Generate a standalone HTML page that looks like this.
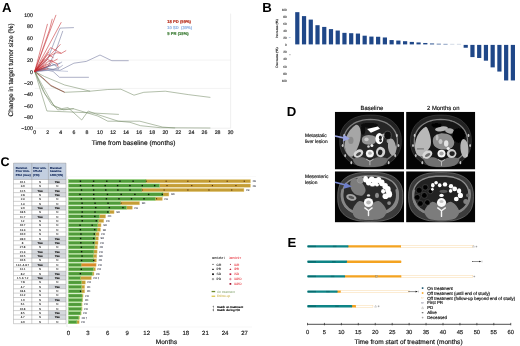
<!DOCTYPE html>
<html lang="en">
<head>
<meta charset="utf-8">
<title>Figure</title>
<style>
html,body{margin:0;padding:0;background:#fff;}
body{width:520px;height:346px;overflow:hidden;}
svg{display:block;}
svg text{font-family:"Liberation Sans",sans-serif;text-rendering:geometricPrecision;}
</style>
</head>
<body>
<svg width="520" height="346" viewBox="0 0 520 346">
<rect width="520" height="346" fill="#ffffff"/>
<g id="panelA">
<text x="1.90" y="11.50" font-size="13.2" fill="#000" text-anchor="start" font-weight="bold" >A</text>
<path d="M230.6 13.6 V128.2 H34.7" fill="none" stroke="#e9e9e9" stroke-width="0.7"/>
<line x1="34.7" y1="60.1" x2="230.6" y2="60.1" stroke="#e6e6e6" stroke-width="0.5"/>
<line x1="34.7" y1="88.4" x2="230.6" y2="88.4" stroke="#e6e6e6" stroke-width="0.5"/>
<text x="32.90" y="130.15" font-size="5.2" fill="#1a1a1a" text-anchor="end" font-weight="normal"  stroke="#1a1a1a" stroke-width="0.16">−100</text>
<text x="32.90" y="118.84" font-size="5.2" fill="#1a1a1a" text-anchor="end" font-weight="normal"  stroke="#1a1a1a" stroke-width="0.16">−80</text>
<text x="32.90" y="107.53" font-size="5.2" fill="#1a1a1a" text-anchor="end" font-weight="normal"  stroke="#1a1a1a" stroke-width="0.16">−60</text>
<text x="32.90" y="96.22" font-size="5.2" fill="#1a1a1a" text-anchor="end" font-weight="normal"  stroke="#1a1a1a" stroke-width="0.16">−40</text>
<text x="32.90" y="84.91" font-size="5.2" fill="#1a1a1a" text-anchor="end" font-weight="normal"  stroke="#1a1a1a" stroke-width="0.16">−20</text>
<text x="32.90" y="73.60" font-size="5.2" fill="#1a1a1a" text-anchor="end" font-weight="normal"  stroke="#1a1a1a" stroke-width="0.16">0</text>
<text x="32.90" y="62.29" font-size="5.2" fill="#1a1a1a" text-anchor="end" font-weight="normal"  stroke="#1a1a1a" stroke-width="0.16">20</text>
<text x="32.90" y="50.98" font-size="5.2" fill="#1a1a1a" text-anchor="end" font-weight="normal"  stroke="#1a1a1a" stroke-width="0.16">40</text>
<text x="32.90" y="39.67" font-size="5.2" fill="#1a1a1a" text-anchor="end" font-weight="normal"  stroke="#1a1a1a" stroke-width="0.16">60</text>
<text x="32.90" y="28.36" font-size="5.2" fill="#1a1a1a" text-anchor="end" font-weight="normal"  stroke="#1a1a1a" stroke-width="0.16">80</text>
<text x="32.90" y="17.05" font-size="5.2" fill="#1a1a1a" text-anchor="end" font-weight="normal"  stroke="#1a1a1a" stroke-width="0.16">100</text>
<text x="34.70" y="134.20" font-size="5.2" fill="#1a1a1a" text-anchor="middle" font-weight="normal"  stroke="#1a1a1a" stroke-width="0.16">0</text>
<text x="47.76" y="134.20" font-size="5.2" fill="#1a1a1a" text-anchor="middle" font-weight="normal"  stroke="#1a1a1a" stroke-width="0.16">2</text>
<text x="60.82" y="134.20" font-size="5.2" fill="#1a1a1a" text-anchor="middle" font-weight="normal"  stroke="#1a1a1a" stroke-width="0.16">4</text>
<text x="73.88" y="134.20" font-size="5.2" fill="#1a1a1a" text-anchor="middle" font-weight="normal"  stroke="#1a1a1a" stroke-width="0.16">6</text>
<text x="86.94" y="134.20" font-size="5.2" fill="#1a1a1a" text-anchor="middle" font-weight="normal"  stroke="#1a1a1a" stroke-width="0.16">8</text>
<text x="100.00" y="134.20" font-size="5.2" fill="#1a1a1a" text-anchor="middle" font-weight="normal"  stroke="#1a1a1a" stroke-width="0.16">10</text>
<text x="113.06" y="134.20" font-size="5.2" fill="#1a1a1a" text-anchor="middle" font-weight="normal"  stroke="#1a1a1a" stroke-width="0.16">12</text>
<text x="126.12" y="134.20" font-size="5.2" fill="#1a1a1a" text-anchor="middle" font-weight="normal"  stroke="#1a1a1a" stroke-width="0.16">14</text>
<text x="139.18" y="134.20" font-size="5.2" fill="#1a1a1a" text-anchor="middle" font-weight="normal"  stroke="#1a1a1a" stroke-width="0.16">16</text>
<text x="152.24" y="134.20" font-size="5.2" fill="#1a1a1a" text-anchor="middle" font-weight="normal"  stroke="#1a1a1a" stroke-width="0.16">18</text>
<text x="165.30" y="134.20" font-size="5.2" fill="#1a1a1a" text-anchor="middle" font-weight="normal"  stroke="#1a1a1a" stroke-width="0.16">20</text>
<text x="178.36" y="134.20" font-size="5.2" fill="#1a1a1a" text-anchor="middle" font-weight="normal"  stroke="#1a1a1a" stroke-width="0.16">22</text>
<text x="191.42" y="134.20" font-size="5.2" fill="#1a1a1a" text-anchor="middle" font-weight="normal"  stroke="#1a1a1a" stroke-width="0.16">24</text>
<text x="204.48" y="134.20" font-size="5.2" fill="#1a1a1a" text-anchor="middle" font-weight="normal"  stroke="#1a1a1a" stroke-width="0.16">26</text>
<text x="217.54" y="134.20" font-size="5.2" fill="#1a1a1a" text-anchor="middle" font-weight="normal"  stroke="#1a1a1a" stroke-width="0.16">28</text>
<text x="230.60" y="134.20" font-size="5.2" fill="#1a1a1a" text-anchor="middle" font-weight="normal"  stroke="#1a1a1a" stroke-width="0.16">30</text>
<text x="133.60" y="144.70" font-size="6.6" fill="#111" text-anchor="middle" font-weight="normal"  stroke="#111" stroke-width="0.16">Time from baseline (months)</text>
<text transform="translate(13.3,69.9) rotate(-90)" font-size="6.6" fill="#111" stroke="#111" stroke-width="0.16" text-anchor="middle">Change in target tumor size (%)</text>
<text x="167.30" y="23.40" font-size="4.15" fill="#b8301f" text-anchor="start" font-weight="bold"  stroke="#b8301f" stroke-width="0.16">18 PD (55%)</text>
<text x="167.30" y="29.30" font-size="4.15" fill="#98b8e6" text-anchor="start" font-weight="bold"  stroke="#98b8e6" stroke-width="0.16">10 SD&#160;&#160;(30%)</text>
<text x="167.30" y="34.90" font-size="4.15" fill="#3a7a32" text-anchor="start" font-weight="bold"  stroke="#3a7a32" stroke-width="0.16">5 PR (15%)</text>
<polyline points="34.7,71.4 44.5,76.5 64.7,85.0 90.2,91.2 107.8,89.5 120.9,89.2 134.0,95.2 143.8,92.3 165.3,91.2 188.2,94.6 210.4,97.4" fill="none" stroke="#748a64" stroke-width="0.55" stroke-opacity="1" stroke-linejoin="round"/>
<polyline points="34.7,71.4 51.0,86.1 64.7,92.3 90.2,91.2" fill="none" stroke="#748a64" stroke-width="0.55" stroke-opacity="1" stroke-linejoin="round"/>
<polyline points="34.7,71.4 46.9,111.0 86.9,112.7 118.9,114.4" fill="none" stroke="#748a64" stroke-width="0.55" stroke-opacity="1" stroke-linejoin="round"/>
<polyline points="34.7,71.4 43.2,91.2 51.7,104.8 61.5,108.7 68.0,107.6 81.7,120.0 88.2,111.0 95.4,113.8 118.3,121.2 130.0,122.3 140.5,125.7 160.1,127.7 210.4,128.0" fill="none" stroke="#748a64" stroke-width="0.55" stroke-opacity="1" stroke-linejoin="round"/>
<polyline points="34.7,71.4 45.1,94.0 57.6,109.9 73.2,108.7 98.0,116.1 107.8,121.2 130.0,121.2 139.8,121.2 162.7,127.1 175.1,128.0" fill="none" stroke="#748a64" stroke-width="0.55" stroke-opacity="1" stroke-linejoin="round"/>
<polyline points="34.7,71.4 47.8,95.2 54.3,106.5 63.4,109.9 73.9,108.7" fill="none" stroke="#748a64" stroke-width="0.5" stroke-opacity="1" stroke-linejoin="round"/>
<polyline points="34.7,71.4 42.5,77.6 51.0,85.5 64.7,92.3" fill="none" stroke="#8c3b2e" stroke-width="0.7" stroke-opacity="1" stroke-linejoin="round"/>
<polyline points="34.7,71.4 47.8,59.0 54.9,40.3 60.0,28.1 73.9,27.6" fill="none" stroke="#6a7099" stroke-width="0.55" stroke-opacity="1" stroke-linejoin="round"/>
<polyline points="34.7,71.4 47.8,66.9 55.6,51.6 62.8,30.9" fill="none" stroke="#6a7099" stroke-width="0.55" stroke-opacity="1" stroke-linejoin="round"/>
<polyline points="34.7,71.4 51.0,69.7 60.0,70.3 73.9,63.2 86.3,61.4 100.0,55.0 111.8,60.7 128.7,60.7" fill="none" stroke="#6a7099" stroke-width="0.55" stroke-opacity="1" stroke-linejoin="round"/>
<polyline points="34.7,71.4 47.8,70.3 53.0,71.4 59.5,77.3 88.9,77.3" fill="none" stroke="#6a7099" stroke-width="0.55" stroke-opacity="1" stroke-linejoin="round"/>
<polyline points="34.7,71.4 50.4,70.3 68.0,71.4" fill="none" stroke="#9aa3c4" stroke-width="0.55" stroke-opacity="1" stroke-linejoin="round"/>
<polyline points="34.7,71.4 44.5,68.6 51.7,63.5 56.2,65.7 62.1,61.8" fill="none" stroke="#6a7099" stroke-width="0.5" stroke-opacity="1" stroke-linejoin="round"/>
<polyline points="34.7,71.4 47.8,66.9 54.3,64.6 58.2,68.6 62.8,65.2" fill="none" stroke="#6a7099" stroke-width="0.5" stroke-opacity="1" stroke-linejoin="round"/>
<polyline points="34.7,71.4 46.5,68.0 53.0,69.7 59.5,66.9" fill="none" stroke="#6a7099" stroke-width="0.5" stroke-opacity="1" stroke-linejoin="round"/>
<polyline points="34.7,71.4 47.1,69.1 58.9,69.1" fill="none" stroke="#6a7099" stroke-width="0.5" stroke-opacity="1" stroke-linejoin="round"/>
<polyline points="34.7,71.4 49.1,66.3 60.2,62.9" fill="none" stroke="#6a7099" stroke-width="0.5" stroke-opacity="1" stroke-linejoin="round"/>
<polyline points="34.7,71.4 56.0,14.9" fill="none" stroke="#c4262c" stroke-width="0.55" stroke-opacity="1" stroke-linejoin="round"/>
<polyline points="34.7,71.4 49.4,30.1 52.3,18.8" fill="none" stroke="#c4262c" stroke-width="0.55" stroke-opacity="1" stroke-linejoin="round"/>
<polyline points="34.7,71.4 47.5,23.9" fill="none" stroke="#c4262c" stroke-width="0.55" stroke-opacity="1" stroke-linejoin="round"/>
<polyline points="34.7,71.4 61.3,22.2" fill="none" stroke="#c4262c" stroke-width="0.55" stroke-opacity="1" stroke-linejoin="round"/>
<polyline points="34.7,71.4 50.6,47.6 61.3,53.3 66.2,50.5" fill="none" stroke="#c4262c" stroke-width="0.55" stroke-opacity="1" stroke-linejoin="round"/>
<polyline points="34.7,71.4 48.7,56.7 56.2,52.7 61.3,53.3" fill="none" stroke="#c4262c" stroke-width="0.55" stroke-opacity="1" stroke-linejoin="round"/>
<polyline points="34.7,71.4 47.5,59.5 56.9,63.5 58.2,66.9" fill="none" stroke="#c4262c" stroke-width="0.55" stroke-opacity="1" stroke-linejoin="round"/>
<polyline points="34.7,71.4 60.5,44.3" fill="none" stroke="#c4262c" stroke-width="0.55" stroke-opacity="1" stroke-linejoin="round"/>
<polyline points="34.7,71.4 47.8,54.4 53.6,57.8" fill="none" stroke="#c4262c" stroke-width="0.55" stroke-opacity="1" stroke-linejoin="round"/>
<polyline points="34.7,71.4 46.5,62.4 53.0,60.1" fill="none" stroke="#c4262c" stroke-width="0.55" stroke-opacity="1" stroke-linejoin="round"/>
<polyline points="34.7,71.4 51.0,64.6" fill="none" stroke="#c4262c" stroke-width="0.55" stroke-opacity="1" stroke-linejoin="round"/>
<polyline points="34.7,71.4 44.5,59.0" fill="none" stroke="#c4262c" stroke-width="0.55" stroke-opacity="1" stroke-linejoin="round"/>
<polyline points="34.7,71.4 49.1,51.6" fill="none" stroke="#c4262c" stroke-width="0.55" stroke-opacity="1" stroke-linejoin="round"/>
<polyline points="34.7,71.4 57.6,59.0" fill="none" stroke="#c4262c" stroke-width="0.55" stroke-opacity="1" stroke-linejoin="round"/>
<polyline points="34.7,71.4 45.8,66.9" fill="none" stroke="#c4262c" stroke-width="0.55" stroke-opacity="1" stroke-linejoin="round"/>
<polyline points="34.7,71.4 47.1,63.5" fill="none" stroke="#c4262c" stroke-width="0.55" stroke-opacity="1" stroke-linejoin="round"/>
<polyline points="34.7,71.4 48.4,68.6" fill="none" stroke="#c4262c" stroke-width="0.55" stroke-opacity="1" stroke-linejoin="round"/>
<polyline points="34.7,71.4 43.8,65.7" fill="none" stroke="#c4262c" stroke-width="0.55" stroke-opacity="1" stroke-linejoin="round"/>
</g>
<g id="panelB">
<text x="262.20" y="11.80" font-size="13.2" fill="#000" text-anchor="start" font-weight="bold" >B</text>
<text x="286.80" y="10.55" font-size="3.1" fill="#151515" text-anchor="end" font-weight="normal"  stroke="#151515" stroke-width="0.07">100</text>
<text x="286.80" y="17.68" font-size="3.1" fill="#151515" text-anchor="end" font-weight="normal"  stroke="#151515" stroke-width="0.07">80</text>
<text x="286.80" y="24.81" font-size="3.1" fill="#151515" text-anchor="end" font-weight="normal"  stroke="#151515" stroke-width="0.07">60</text>
<text x="286.80" y="31.94" font-size="3.1" fill="#151515" text-anchor="end" font-weight="normal"  stroke="#151515" stroke-width="0.07">40</text>
<text x="286.80" y="39.07" font-size="3.1" fill="#151515" text-anchor="end" font-weight="normal"  stroke="#151515" stroke-width="0.07">20</text>
<text x="286.80" y="46.20" font-size="3.1" fill="#151515" text-anchor="end" font-weight="normal"  stroke="#151515" stroke-width="0.07">0</text>
<text x="286.80" y="53.33" font-size="3.1" fill="#151515" text-anchor="end" font-weight="normal"  stroke="#151515" stroke-width="0.07">20</text>
<text x="286.80" y="60.46" font-size="3.1" fill="#151515" text-anchor="end" font-weight="normal"  stroke="#151515" stroke-width="0.07">40</text>
<text x="286.80" y="67.59" font-size="3.1" fill="#151515" text-anchor="end" font-weight="normal"  stroke="#151515" stroke-width="0.07">60</text>
<text x="286.80" y="74.72" font-size="3.1" fill="#151515" text-anchor="end" font-weight="normal"  stroke="#151515" stroke-width="0.07">80</text>
<text x="286.80" y="81.85" font-size="3.1" fill="#151515" text-anchor="end" font-weight="normal"  stroke="#151515" stroke-width="0.07">100</text>
<text transform="translate(278.4,28.6) rotate(-90)" font-size="3.3" stroke="#222" stroke-width="0.12" fill="#222" text-anchor="middle">Increase (%)</text>
<text transform="translate(278.4,57.6) rotate(-90)" font-size="3.3" stroke="#222" stroke-width="0.12" fill="#222" text-anchor="middle">Decrease (%)</text>
<rect x="288.8" y="37.3" width="1.8" height="0.7" fill="#9db7dd"/>
<rect x="289.2" y="54.6" width="1.4" height="0.5" fill="#555"/>
<rect x="295.20" y="12.16" width="4.2" height="32.24" fill="#1f4788"/>
<rect x="301.94" y="16.10" width="4.2" height="28.30" fill="#1f4788"/>
<rect x="308.67" y="19.59" width="4.2" height="24.81" fill="#1f4788"/>
<rect x="315.41" y="25.20" width="4.2" height="19.20" fill="#1f4788"/>
<rect x="322.15" y="26.91" width="4.2" height="17.49" fill="#1f4788"/>
<rect x="328.88" y="29.11" width="4.2" height="15.29" fill="#1f4788"/>
<rect x="335.62" y="30.54" width="4.2" height="13.86" fill="#1f4788"/>
<rect x="342.36" y="32.85" width="4.2" height="11.55" fill="#1f4788"/>
<rect x="349.10" y="33.20" width="4.2" height="11.20" fill="#1f4788"/>
<rect x="355.83" y="33.56" width="4.2" height="10.84" fill="#1f4788"/>
<rect x="362.57" y="35.69" width="4.2" height="8.71" fill="#1f4788"/>
<rect x="369.31" y="36.58" width="4.2" height="7.82" fill="#1f4788"/>
<rect x="376.04" y="36.76" width="4.2" height="7.64" fill="#1f4788"/>
<rect x="382.78" y="37.47" width="4.2" height="6.93" fill="#1f4788"/>
<rect x="389.52" y="40.06" width="4.2" height="4.34" fill="#1f4788"/>
<rect x="396.25" y="40.56" width="4.2" height="3.84" fill="#1f4788"/>
<rect x="402.99" y="41.20" width="4.2" height="3.20" fill="#1f4788"/>
<rect x="409.73" y="41.91" width="4.2" height="2.49" fill="#1f4788"/>
<rect x="416.47" y="42.44" width="4.2" height="1.96" fill="#1f4788"/>
<rect x="423.20" y="42.98" width="4.2" height="1.42" fill="#1f4788"/>
<rect x="429.94" y="43.48" width="4.2" height="0.92" fill="#1f4788"/>
<rect x="436.68" y="43.76" width="4.2" height="0.64" fill="#1f4788"/>
<rect x="443.41" y="43.90" width="4.2" height="0.50" fill="#1f4788"/>
<rect x="450.15" y="43.90" width="4.2" height="0.50" fill="#a9b6cc"/>
<rect x="456.89" y="43.90" width="4.2" height="0.50" fill="#a9b6cc"/>
<rect x="463.62" y="44.90" width="4.2" height="2.84" fill="#1f4788"/>
<rect x="470.36" y="44.90" width="4.2" height="12.19" fill="#1f4788"/>
<rect x="477.10" y="44.90" width="4.2" height="13.08" fill="#1f4788"/>
<rect x="483.84" y="44.90" width="4.2" height="15.78" fill="#1f4788"/>
<rect x="490.57" y="44.90" width="4.2" height="22.47" fill="#1f4788"/>
<rect x="497.31" y="44.90" width="4.2" height="26.66" fill="#1f4788"/>
<rect x="504.05" y="44.90" width="4.2" height="35.55" fill="#1f4788"/>
<rect x="510.78" y="44.90" width="4.2" height="35.55" fill="#1f4788"/>
</g>
<g id="panelC">
<text x="0.40" y="165.90" font-size="12.6" fill="#000" text-anchor="start" font-weight="bold" >C</text>
<rect x="13.5" y="163.1" width="52.5" height="16.400000000000006" fill="#c3cfe0"/>
<text x="15.80" y="169.10" font-size="2.8" fill="#1c3263" text-anchor="start" font-weight="bold"  stroke="#1c3263" stroke-width="0.14">Duration</text>
<text x="15.80" y="172.45" font-size="2.8" fill="#1c3263" text-anchor="start" font-weight="bold"  stroke="#1c3263" stroke-width="0.14">Prior Anti-</text>
<text x="15.80" y="175.80" font-size="2.8" fill="#1c3263" text-anchor="start" font-weight="bold"  stroke="#1c3263" stroke-width="0.14">PD-1 (mos)</text>
<text x="32.90" y="169.10" font-size="2.8" fill="#1c3263" text-anchor="start" font-weight="bold"  stroke="#1c3263" stroke-width="0.14">Prior anti-</text>
<text x="32.90" y="172.45" font-size="2.8" fill="#1c3263" text-anchor="start" font-weight="bold"  stroke="#1c3263" stroke-width="0.14">CTLA4</text>
<text x="32.90" y="175.80" font-size="2.8" fill="#1c3263" text-anchor="start" font-weight="bold"  stroke="#1c3263" stroke-width="0.14">(Y/N)</text>
<text x="50.00" y="169.10" font-size="2.8" fill="#1c3263" text-anchor="start" font-weight="bold"  stroke="#1c3263" stroke-width="0.14">Elevated</text>
<text x="50.00" y="172.45" font-size="2.8" fill="#1c3263" text-anchor="start" font-weight="bold"  stroke="#1c3263" stroke-width="0.14">baseline</text>
<text x="50.00" y="175.80" font-size="2.8" fill="#1c3263" text-anchor="start" font-weight="bold"  stroke="#1c3263" stroke-width="0.14">LDH (Y/N)</text>
<rect x="48.4" y="179.50" width="17.6" height="4.37" fill="#d6d9de"/>
<rect x="31.8" y="188.24" width="16.599999999999998" height="4.37" fill="#d6d9de"/>
<rect x="48.4" y="188.24" width="17.6" height="4.37" fill="#d6d9de"/>
<rect x="48.4" y="192.61" width="17.6" height="4.37" fill="#d6d9de"/>
<rect x="31.8" y="205.72" width="16.599999999999998" height="4.37" fill="#d6d9de"/>
<rect x="48.4" y="205.72" width="17.6" height="4.37" fill="#d6d9de"/>
<rect x="31.8" y="214.46" width="16.599999999999998" height="4.37" fill="#d6d9de"/>
<rect x="48.4" y="236.31" width="17.6" height="4.37" fill="#d6d9de"/>
<rect x="31.8" y="240.68" width="16.599999999999998" height="4.37" fill="#d6d9de"/>
<rect x="48.4" y="240.68" width="17.6" height="4.37" fill="#d6d9de"/>
<rect x="31.8" y="249.42" width="16.599999999999998" height="4.37" fill="#d6d9de"/>
<rect x="48.4" y="249.42" width="17.6" height="4.37" fill="#d6d9de"/>
<rect x="31.8" y="253.79" width="16.599999999999998" height="4.37" fill="#d6d9de"/>
<rect x="48.4" y="253.79" width="17.6" height="4.37" fill="#d6d9de"/>
<rect x="31.8" y="262.53" width="16.599999999999998" height="4.37" fill="#d6d9de"/>
<rect x="48.4" y="271.27" width="17.6" height="4.37" fill="#d6d9de"/>
<rect x="31.8" y="275.64" width="16.599999999999998" height="4.37" fill="#d6d9de"/>
<rect x="48.4" y="275.64" width="17.6" height="4.37" fill="#d6d9de"/>
<rect x="48.4" y="284.38" width="17.6" height="4.37" fill="#d6d9de"/>
<rect x="48.4" y="297.49" width="17.6" height="4.37" fill="#d6d9de"/>
<rect x="48.4" y="310.60" width="17.6" height="4.37" fill="#d6d9de"/>
<rect x="48.4" y="314.97" width="17.6" height="4.37" fill="#d6d9de"/>
<line x1="13.5" y1="179.50" x2="66.0" y2="179.50" stroke="#8c8c8c" stroke-width="0.4"/>
<line x1="13.5" y1="183.87" x2="66.0" y2="183.87" stroke="#8c8c8c" stroke-width="0.4"/>
<line x1="13.5" y1="188.24" x2="66.0" y2="188.24" stroke="#8c8c8c" stroke-width="0.4"/>
<line x1="13.5" y1="192.61" x2="66.0" y2="192.61" stroke="#8c8c8c" stroke-width="0.4"/>
<line x1="13.5" y1="196.98" x2="66.0" y2="196.98" stroke="#8c8c8c" stroke-width="0.4"/>
<line x1="13.5" y1="201.35" x2="66.0" y2="201.35" stroke="#8c8c8c" stroke-width="0.4"/>
<line x1="13.5" y1="205.72" x2="66.0" y2="205.72" stroke="#8c8c8c" stroke-width="0.4"/>
<line x1="13.5" y1="210.09" x2="66.0" y2="210.09" stroke="#8c8c8c" stroke-width="0.4"/>
<line x1="13.5" y1="214.46" x2="66.0" y2="214.46" stroke="#8c8c8c" stroke-width="0.4"/>
<line x1="13.5" y1="218.83" x2="66.0" y2="218.83" stroke="#8c8c8c" stroke-width="0.4"/>
<line x1="13.5" y1="223.20" x2="66.0" y2="223.20" stroke="#8c8c8c" stroke-width="0.4"/>
<line x1="13.5" y1="227.57" x2="66.0" y2="227.57" stroke="#8c8c8c" stroke-width="0.4"/>
<line x1="13.5" y1="231.94" x2="66.0" y2="231.94" stroke="#8c8c8c" stroke-width="0.4"/>
<line x1="13.5" y1="236.31" x2="66.0" y2="236.31" stroke="#8c8c8c" stroke-width="0.4"/>
<line x1="13.5" y1="240.68" x2="66.0" y2="240.68" stroke="#8c8c8c" stroke-width="0.4"/>
<line x1="13.5" y1="245.05" x2="66.0" y2="245.05" stroke="#8c8c8c" stroke-width="0.4"/>
<line x1="13.5" y1="249.42" x2="66.0" y2="249.42" stroke="#8c8c8c" stroke-width="0.4"/>
<line x1="13.5" y1="253.79" x2="66.0" y2="253.79" stroke="#8c8c8c" stroke-width="0.4"/>
<line x1="13.5" y1="258.16" x2="66.0" y2="258.16" stroke="#8c8c8c" stroke-width="0.4"/>
<line x1="13.5" y1="262.53" x2="66.0" y2="262.53" stroke="#8c8c8c" stroke-width="0.4"/>
<line x1="13.5" y1="266.90" x2="66.0" y2="266.90" stroke="#8c8c8c" stroke-width="0.4"/>
<line x1="13.5" y1="271.27" x2="66.0" y2="271.27" stroke="#8c8c8c" stroke-width="0.4"/>
<line x1="13.5" y1="275.64" x2="66.0" y2="275.64" stroke="#8c8c8c" stroke-width="0.4"/>
<line x1="13.5" y1="280.01" x2="66.0" y2="280.01" stroke="#8c8c8c" stroke-width="0.4"/>
<line x1="13.5" y1="284.38" x2="66.0" y2="284.38" stroke="#8c8c8c" stroke-width="0.4"/>
<line x1="13.5" y1="288.75" x2="66.0" y2="288.75" stroke="#8c8c8c" stroke-width="0.4"/>
<line x1="13.5" y1="293.12" x2="66.0" y2="293.12" stroke="#8c8c8c" stroke-width="0.4"/>
<line x1="13.5" y1="297.49" x2="66.0" y2="297.49" stroke="#8c8c8c" stroke-width="0.4"/>
<line x1="13.5" y1="301.86" x2="66.0" y2="301.86" stroke="#8c8c8c" stroke-width="0.4"/>
<line x1="13.5" y1="306.23" x2="66.0" y2="306.23" stroke="#8c8c8c" stroke-width="0.4"/>
<line x1="13.5" y1="310.60" x2="66.0" y2="310.60" stroke="#8c8c8c" stroke-width="0.4"/>
<line x1="13.5" y1="314.97" x2="66.0" y2="314.97" stroke="#8c8c8c" stroke-width="0.4"/>
<line x1="13.5" y1="319.34" x2="66.0" y2="319.34" stroke="#8c8c8c" stroke-width="0.4"/>
<line x1="13.5" y1="323.71" x2="66.0" y2="323.71" stroke="#8c8c8c" stroke-width="0.4"/>
<line x1="13.5" y1="163.1" x2="13.5" y2="323.71" stroke="#8a8a8a" stroke-width="0.4"/>
<line x1="31.8" y1="163.1" x2="31.8" y2="323.71" stroke="#8a8a8a" stroke-width="0.4"/>
<line x1="48.4" y1="163.1" x2="48.4" y2="323.71" stroke="#8a8a8a" stroke-width="0.4"/>
<line x1="66.0" y1="163.1" x2="66.0" y2="323.71" stroke="#8a8a8a" stroke-width="0.4"/>
<line x1="13.5" y1="163.1" x2="66.0" y2="163.1" stroke="#8a8a8a" stroke-width="0.4"/>
<text x="22.65" y="182.78" font-size="2.9" fill="#1e1e1e" text-anchor="middle" font-weight="normal"  stroke="#1e1e1e" stroke-width="0.07">10.1</text>
<text x="40.10" y="182.78" font-size="2.9" fill="#1e1e1e" text-anchor="middle" font-weight="normal"  stroke="#1e1e1e" stroke-width="0.07">N</text>
<text x="57.20" y="182.78" font-size="2.9" fill="#1e1e1e" text-anchor="middle" font-weight="bold"  stroke="#1e1e1e" stroke-width="0.14">Yes</text>
<text x="22.65" y="187.16" font-size="2.9" fill="#1e1e1e" text-anchor="middle" font-weight="normal"  stroke="#1e1e1e" stroke-width="0.07">3.0</text>
<text x="40.10" y="187.16" font-size="2.9" fill="#1e1e1e" text-anchor="middle" font-weight="normal"  stroke="#1e1e1e" stroke-width="0.07">N</text>
<text x="57.20" y="187.16" font-size="2.9" fill="#1e1e1e" text-anchor="middle" font-weight="normal"  stroke="#1e1e1e" stroke-width="0.07">N</text>
<text x="22.65" y="191.53" font-size="2.9" fill="#1e1e1e" text-anchor="middle" font-weight="normal"  stroke="#1e1e1e" stroke-width="0.07">12.5</text>
<text x="40.10" y="191.53" font-size="2.9" fill="#1e1e1e" text-anchor="middle" font-weight="bold"  stroke="#1e1e1e" stroke-width="0.14">Yes</text>
<text x="57.20" y="191.53" font-size="2.9" fill="#1e1e1e" text-anchor="middle" font-weight="bold"  stroke="#1e1e1e" stroke-width="0.14">Yes</text>
<text x="22.65" y="195.90" font-size="2.9" fill="#1e1e1e" text-anchor="middle" font-weight="normal"  stroke="#1e1e1e" stroke-width="0.07">2.8</text>
<text x="40.10" y="195.90" font-size="2.9" fill="#1e1e1e" text-anchor="middle" font-weight="normal"  stroke="#1e1e1e" stroke-width="0.07">N</text>
<text x="57.20" y="195.90" font-size="2.9" fill="#1e1e1e" text-anchor="middle" font-weight="bold"  stroke="#1e1e1e" stroke-width="0.14">Yes</text>
<text x="22.65" y="200.26" font-size="2.9" fill="#1e1e1e" text-anchor="middle" font-weight="normal"  stroke="#1e1e1e" stroke-width="0.07">2.9</text>
<text x="40.10" y="200.26" font-size="2.9" fill="#1e1e1e" text-anchor="middle" font-weight="normal"  stroke="#1e1e1e" stroke-width="0.07">N</text>
<text x="57.20" y="200.26" font-size="2.9" fill="#1e1e1e" text-anchor="middle" font-weight="normal"  stroke="#1e1e1e" stroke-width="0.07">N</text>
<text x="22.65" y="204.63" font-size="2.9" fill="#1e1e1e" text-anchor="middle" font-weight="normal"  stroke="#1e1e1e" stroke-width="0.07">1.9</text>
<text x="40.10" y="204.63" font-size="2.9" fill="#1e1e1e" text-anchor="middle" font-weight="normal"  stroke="#1e1e1e" stroke-width="0.07">N</text>
<text x="57.20" y="204.63" font-size="2.9" fill="#1e1e1e" text-anchor="middle" font-weight="normal"  stroke="#1e1e1e" stroke-width="0.07">N</text>
<text x="22.65" y="209.00" font-size="2.9" fill="#1e1e1e" text-anchor="middle" font-weight="normal"  stroke="#1e1e1e" stroke-width="0.07">9.0</text>
<text x="40.10" y="209.00" font-size="2.9" fill="#1e1e1e" text-anchor="middle" font-weight="bold"  stroke="#1e1e1e" stroke-width="0.14">Yes</text>
<text x="57.20" y="209.00" font-size="2.9" fill="#1e1e1e" text-anchor="middle" font-weight="bold"  stroke="#1e1e1e" stroke-width="0.14">Yes</text>
<text x="22.65" y="213.38" font-size="2.9" fill="#1e1e1e" text-anchor="middle" font-weight="normal"  stroke="#1e1e1e" stroke-width="0.07">18.6</text>
<text x="40.10" y="213.38" font-size="2.9" fill="#1e1e1e" text-anchor="middle" font-weight="normal"  stroke="#1e1e1e" stroke-width="0.07">N</text>
<text x="57.20" y="213.38" font-size="2.9" fill="#1e1e1e" text-anchor="middle" font-weight="normal"  stroke="#1e1e1e" stroke-width="0.07">N</text>
<text x="22.65" y="217.75" font-size="2.9" fill="#1e1e1e" text-anchor="middle" font-weight="normal"  stroke="#1e1e1e" stroke-width="0.07">11.7</text>
<text x="40.10" y="217.75" font-size="2.9" fill="#1e1e1e" text-anchor="middle" font-weight="bold"  stroke="#1e1e1e" stroke-width="0.14">Yes</text>
<text x="57.20" y="217.75" font-size="2.9" fill="#1e1e1e" text-anchor="middle" font-weight="normal"  stroke="#1e1e1e" stroke-width="0.07">N</text>
<text x="22.65" y="222.11" font-size="2.9" fill="#1e1e1e" text-anchor="middle" font-weight="normal"  stroke="#1e1e1e" stroke-width="0.07">12</text>
<text x="40.10" y="222.11" font-size="2.9" fill="#1e1e1e" text-anchor="middle" font-weight="normal"  stroke="#1e1e1e" stroke-width="0.07">N</text>
<text x="57.20" y="222.11" font-size="2.9" fill="#1e1e1e" text-anchor="middle" font-weight="normal"  stroke="#1e1e1e" stroke-width="0.07">N</text>
<text x="22.65" y="226.48" font-size="2.9" fill="#1e1e1e" text-anchor="middle" font-weight="normal"  stroke="#1e1e1e" stroke-width="0.07">16.7</text>
<text x="40.10" y="226.48" font-size="2.9" fill="#1e1e1e" text-anchor="middle" font-weight="normal"  stroke="#1e1e1e" stroke-width="0.07">N</text>
<text x="57.20" y="226.48" font-size="2.9" fill="#1e1e1e" text-anchor="middle" font-weight="normal"  stroke="#1e1e1e" stroke-width="0.07">N</text>
<text x="22.65" y="230.85" font-size="2.9" fill="#1e1e1e" text-anchor="middle" font-weight="normal"  stroke="#1e1e1e" stroke-width="0.07">13.3</text>
<text x="40.10" y="230.85" font-size="2.9" fill="#1e1e1e" text-anchor="middle" font-weight="normal"  stroke="#1e1e1e" stroke-width="0.07">N</text>
<text x="57.20" y="230.85" font-size="2.9" fill="#1e1e1e" text-anchor="middle" font-weight="normal"  stroke="#1e1e1e" stroke-width="0.07">N</text>
<text x="22.65" y="235.22" font-size="2.9" fill="#1e1e1e" text-anchor="middle" font-weight="normal"  stroke="#1e1e1e" stroke-width="0.07">16.0</text>
<text x="40.10" y="235.22" font-size="2.9" fill="#1e1e1e" text-anchor="middle" font-weight="normal"  stroke="#1e1e1e" stroke-width="0.07">N</text>
<text x="57.20" y="235.22" font-size="2.9" fill="#1e1e1e" text-anchor="middle" font-weight="normal"  stroke="#1e1e1e" stroke-width="0.07">N</text>
<text x="22.65" y="239.59" font-size="2.9" fill="#1e1e1e" text-anchor="middle" font-weight="normal"  stroke="#1e1e1e" stroke-width="0.07">28.0</text>
<text x="40.10" y="239.59" font-size="2.9" fill="#1e1e1e" text-anchor="middle" font-weight="normal"  stroke="#1e1e1e" stroke-width="0.07">N</text>
<text x="57.20" y="239.59" font-size="2.9" fill="#1e1e1e" text-anchor="middle" font-weight="bold"  stroke="#1e1e1e" stroke-width="0.14">Yes</text>
<text x="22.65" y="243.97" font-size="2.9" fill="#1e1e1e" text-anchor="middle" font-weight="normal"  stroke="#1e1e1e" stroke-width="0.07">8</text>
<text x="40.10" y="243.97" font-size="2.9" fill="#1e1e1e" text-anchor="middle" font-weight="bold"  stroke="#1e1e1e" stroke-width="0.14">Yes</text>
<text x="57.20" y="243.97" font-size="2.9" fill="#1e1e1e" text-anchor="middle" font-weight="bold"  stroke="#1e1e1e" stroke-width="0.14">Yes</text>
<text x="22.65" y="248.34" font-size="2.9" fill="#1e1e1e" text-anchor="middle" font-weight="normal"  stroke="#1e1e1e" stroke-width="0.07">27.8</text>
<text x="40.10" y="248.34" font-size="2.9" fill="#1e1e1e" text-anchor="middle" font-weight="normal"  stroke="#1e1e1e" stroke-width="0.07">N</text>
<text x="57.20" y="248.34" font-size="2.9" fill="#1e1e1e" text-anchor="middle" font-weight="normal"  stroke="#1e1e1e" stroke-width="0.07">N</text>
<text x="22.65" y="252.71" font-size="2.9" fill="#1e1e1e" text-anchor="middle" font-weight="normal"  stroke="#1e1e1e" stroke-width="0.07">21.3</text>
<text x="40.10" y="252.71" font-size="2.9" fill="#1e1e1e" text-anchor="middle" font-weight="bold"  stroke="#1e1e1e" stroke-width="0.14">Yes</text>
<text x="57.20" y="252.71" font-size="2.9" fill="#1e1e1e" text-anchor="middle" font-weight="bold"  stroke="#1e1e1e" stroke-width="0.14">Yes</text>
<text x="22.65" y="257.08" font-size="2.9" fill="#1e1e1e" text-anchor="middle" font-weight="normal"  stroke="#1e1e1e" stroke-width="0.07">16.5</text>
<text x="40.10" y="257.08" font-size="2.9" fill="#1e1e1e" text-anchor="middle" font-weight="bold"  stroke="#1e1e1e" stroke-width="0.14">Yes</text>
<text x="57.20" y="257.08" font-size="2.9" fill="#1e1e1e" text-anchor="middle" font-weight="bold"  stroke="#1e1e1e" stroke-width="0.14">Yes</text>
<text x="22.65" y="261.44" font-size="2.9" fill="#1e1e1e" text-anchor="middle" font-weight="normal"  stroke="#1e1e1e" stroke-width="0.07">16.6</text>
<text x="40.10" y="261.44" font-size="2.9" fill="#1e1e1e" text-anchor="middle" font-weight="normal"  stroke="#1e1e1e" stroke-width="0.07">N</text>
<text x="57.20" y="261.44" font-size="2.9" fill="#1e1e1e" text-anchor="middle" font-weight="normal"  stroke="#1e1e1e" stroke-width="0.07">N</text>
<text x="22.65" y="265.81" font-size="2.9" fill="#1e1e1e" text-anchor="middle" font-weight="normal"  stroke="#1e1e1e" stroke-width="0.07">13.1 &amp; 8.7</text>
<text x="40.10" y="265.81" font-size="2.9" fill="#1e1e1e" text-anchor="middle" font-weight="bold"  stroke="#1e1e1e" stroke-width="0.14">Yes</text>
<text x="57.20" y="265.81" font-size="2.9" fill="#1e1e1e" text-anchor="middle" font-weight="normal"  stroke="#1e1e1e" stroke-width="0.07">N</text>
<text x="22.65" y="270.19" font-size="2.9" fill="#1e1e1e" text-anchor="middle" font-weight="normal"  stroke="#1e1e1e" stroke-width="0.07">12.1</text>
<text x="40.10" y="270.19" font-size="2.9" fill="#1e1e1e" text-anchor="middle" font-weight="normal"  stroke="#1e1e1e" stroke-width="0.07">N</text>
<text x="57.20" y="270.19" font-size="2.9" fill="#1e1e1e" text-anchor="middle" font-weight="normal"  stroke="#1e1e1e" stroke-width="0.07">N</text>
<text x="22.65" y="274.56" font-size="2.9" fill="#1e1e1e" text-anchor="middle" font-weight="normal"  stroke="#1e1e1e" stroke-width="0.07">8.2</text>
<text x="40.10" y="274.56" font-size="2.9" fill="#1e1e1e" text-anchor="middle" font-weight="normal"  stroke="#1e1e1e" stroke-width="0.07">N</text>
<text x="57.20" y="274.56" font-size="2.9" fill="#1e1e1e" text-anchor="middle" font-weight="bold"  stroke="#1e1e1e" stroke-width="0.14">Yes</text>
<text x="22.65" y="278.93" font-size="2.9" fill="#1e1e1e" text-anchor="middle" font-weight="normal"  stroke="#1e1e1e" stroke-width="0.07">1.5 &amp; 7.2</text>
<text x="40.10" y="278.93" font-size="2.9" fill="#1e1e1e" text-anchor="middle" font-weight="bold"  stroke="#1e1e1e" stroke-width="0.14">Yes</text>
<text x="57.20" y="278.93" font-size="2.9" fill="#1e1e1e" text-anchor="middle" font-weight="bold"  stroke="#1e1e1e" stroke-width="0.14">Yes</text>
<text x="22.65" y="283.30" font-size="2.9" fill="#1e1e1e" text-anchor="middle" font-weight="normal"  stroke="#1e1e1e" stroke-width="0.07">7.8</text>
<text x="40.10" y="283.30" font-size="2.9" fill="#1e1e1e" text-anchor="middle" font-weight="normal"  stroke="#1e1e1e" stroke-width="0.07">N</text>
<text x="57.20" y="283.30" font-size="2.9" fill="#1e1e1e" text-anchor="middle" font-weight="normal"  stroke="#1e1e1e" stroke-width="0.07">N</text>
<text x="22.65" y="287.67" font-size="2.9" fill="#1e1e1e" text-anchor="middle" font-weight="normal"  stroke="#1e1e1e" stroke-width="0.07">4.7</text>
<text x="40.10" y="287.67" font-size="2.9" fill="#1e1e1e" text-anchor="middle" font-weight="normal"  stroke="#1e1e1e" stroke-width="0.07">N</text>
<text x="57.20" y="287.67" font-size="2.9" fill="#1e1e1e" text-anchor="middle" font-weight="bold"  stroke="#1e1e1e" stroke-width="0.14">Yes</text>
<text x="22.65" y="292.04" font-size="2.9" fill="#1e1e1e" text-anchor="middle" font-weight="normal"  stroke="#1e1e1e" stroke-width="0.07">18.4</text>
<text x="40.10" y="292.04" font-size="2.9" fill="#1e1e1e" text-anchor="middle" font-weight="normal"  stroke="#1e1e1e" stroke-width="0.07">N</text>
<text x="57.20" y="292.04" font-size="2.9" fill="#1e1e1e" text-anchor="middle" font-weight="normal"  stroke="#1e1e1e" stroke-width="0.07">N</text>
<text x="22.65" y="296.41" font-size="2.9" fill="#1e1e1e" text-anchor="middle" font-weight="normal"  stroke="#1e1e1e" stroke-width="0.07">12.2</text>
<text x="40.10" y="296.41" font-size="2.9" fill="#1e1e1e" text-anchor="middle" font-weight="normal"  stroke="#1e1e1e" stroke-width="0.07">N</text>
<text x="57.20" y="296.41" font-size="2.9" fill="#1e1e1e" text-anchor="middle" font-weight="normal"  stroke="#1e1e1e" stroke-width="0.07">N</text>
<text x="22.65" y="300.78" font-size="2.9" fill="#1e1e1e" text-anchor="middle" font-weight="normal"  stroke="#1e1e1e" stroke-width="0.07">1.0</text>
<text x="40.10" y="300.78" font-size="2.9" fill="#1e1e1e" text-anchor="middle" font-weight="normal"  stroke="#1e1e1e" stroke-width="0.07">N</text>
<text x="57.20" y="300.78" font-size="2.9" fill="#1e1e1e" text-anchor="middle" font-weight="bold"  stroke="#1e1e1e" stroke-width="0.14">Yes</text>
<text x="22.65" y="305.15" font-size="2.9" fill="#1e1e1e" text-anchor="middle" font-weight="normal"  stroke="#1e1e1e" stroke-width="0.07">6.1</text>
<text x="40.10" y="305.15" font-size="2.9" fill="#1e1e1e" text-anchor="middle" font-weight="normal"  stroke="#1e1e1e" stroke-width="0.07">N</text>
<text x="57.20" y="305.15" font-size="2.9" fill="#1e1e1e" text-anchor="middle" font-weight="normal"  stroke="#1e1e1e" stroke-width="0.07">N</text>
<text x="22.65" y="309.52" font-size="2.9" fill="#1e1e1e" text-anchor="middle" font-weight="normal"  stroke="#1e1e1e" stroke-width="0.07">16.8</text>
<text x="40.10" y="309.52" font-size="2.9" fill="#1e1e1e" text-anchor="middle" font-weight="normal"  stroke="#1e1e1e" stroke-width="0.07">N</text>
<text x="57.20" y="309.52" font-size="2.9" fill="#1e1e1e" text-anchor="middle" font-weight="normal"  stroke="#1e1e1e" stroke-width="0.07">N</text>
<text x="22.65" y="313.89" font-size="2.9" fill="#1e1e1e" text-anchor="middle" font-weight="normal"  stroke="#1e1e1e" stroke-width="0.07">8.5</text>
<text x="40.10" y="313.89" font-size="2.9" fill="#1e1e1e" text-anchor="middle" font-weight="normal"  stroke="#1e1e1e" stroke-width="0.07">N</text>
<text x="57.20" y="313.89" font-size="2.9" fill="#1e1e1e" text-anchor="middle" font-weight="bold"  stroke="#1e1e1e" stroke-width="0.14">Yes</text>
<text x="22.65" y="318.26" font-size="2.9" fill="#1e1e1e" text-anchor="middle" font-weight="normal"  stroke="#1e1e1e" stroke-width="0.07">4.7</text>
<text x="40.10" y="318.26" font-size="2.9" fill="#1e1e1e" text-anchor="middle" font-weight="normal"  stroke="#1e1e1e" stroke-width="0.07">N</text>
<text x="57.20" y="318.26" font-size="2.9" fill="#1e1e1e" text-anchor="middle" font-weight="bold"  stroke="#1e1e1e" stroke-width="0.14">Yes</text>
<text x="22.65" y="322.63" font-size="2.9" fill="#1e1e1e" text-anchor="middle" font-weight="normal"  stroke="#1e1e1e" stroke-width="0.07">3.0</text>
<text x="40.10" y="322.63" font-size="2.9" fill="#1e1e1e" text-anchor="middle" font-weight="normal"  stroke="#1e1e1e" stroke-width="0.07">N</text>
<text x="57.20" y="322.63" font-size="2.9" fill="#1e1e1e" text-anchor="middle" font-weight="normal"  stroke="#1e1e1e" stroke-width="0.07">N</text>
<line x1="66.9" y1="176.5" x2="66.9" y2="327" stroke="#d4d4d4" stroke-width="0.5"/>
<line x1="67.6" y1="327" x2="252" y2="327" stroke="#ececec" stroke-width="0.4"/>
<line x1="66.9" y1="176.6" x2="256" y2="176.6" stroke="#efefef" stroke-width="0.4"/>
<text x="68.40" y="334.95" font-size="6.0" fill="#1a1a1a" text-anchor="middle" font-weight="normal"  stroke="#1a1a1a" stroke-width="0.16">0</text>
<text x="87.98" y="334.95" font-size="6.0" fill="#1a1a1a" text-anchor="middle" font-weight="normal"  stroke="#1a1a1a" stroke-width="0.16">3</text>
<text x="107.56" y="334.95" font-size="6.0" fill="#1a1a1a" text-anchor="middle" font-weight="normal"  stroke="#1a1a1a" stroke-width="0.16">6</text>
<text x="127.13" y="334.95" font-size="6.0" fill="#1a1a1a" text-anchor="middle" font-weight="normal"  stroke="#1a1a1a" stroke-width="0.16">9</text>
<text x="146.71" y="334.95" font-size="6.0" fill="#1a1a1a" text-anchor="middle" font-weight="normal"  stroke="#1a1a1a" stroke-width="0.16">12</text>
<text x="166.29" y="334.95" font-size="6.0" fill="#1a1a1a" text-anchor="middle" font-weight="normal"  stroke="#1a1a1a" stroke-width="0.16">15</text>
<text x="185.87" y="334.95" font-size="6.0" fill="#1a1a1a" text-anchor="middle" font-weight="normal"  stroke="#1a1a1a" stroke-width="0.16">18</text>
<text x="205.45" y="334.95" font-size="6.0" fill="#1a1a1a" text-anchor="middle" font-weight="normal"  stroke="#1a1a1a" stroke-width="0.16">21</text>
<text x="225.02" y="334.95" font-size="6.0" fill="#1a1a1a" text-anchor="middle" font-weight="normal"  stroke="#1a1a1a" stroke-width="0.16">24</text>
<text x="244.60" y="334.95" font-size="6.0" fill="#1a1a1a" text-anchor="middle" font-weight="normal"  stroke="#1a1a1a" stroke-width="0.16">27</text>
<text x="166.50" y="343.90" font-size="6.5" fill="#111" text-anchor="middle" font-weight="normal"  stroke="#111" stroke-width="0.16">Months</text>
<rect x="145.76" y="179.55" width="104.72" height="3.3" fill="#c49d36" stroke="#e6cf86" stroke-width="0.4"/>
<rect x="68.40" y="179.55" width="77.66" height="3.3" fill="#4f9a3a" stroke="#93d472" stroke-width="0.5"/>
<rect x="79.74" y="180.50" width="1.4" height="1.4" fill="#0c140a"/>
<rect x="92.91" y="180.50" width="1.4" height="1.4" fill="#0c140a"/>
<rect x="106.08" y="180.50" width="1.4" height="1.4" fill="#0c140a"/>
<rect x="119.24" y="180.50" width="1.4" height="1.4" fill="#0c140a"/>
<rect x="132.41" y="180.50" width="1.4" height="1.4" fill="#0c140a"/>
<rect x="145.73" y="180.65" width="1.1" height="1.1" fill="#4a2208"/>
<rect x="165.59" y="180.65" width="1.1" height="1.1" fill="#4a2208"/>
<rect x="187.29" y="180.65" width="1.1" height="1.1" fill="#4a2208"/>
<rect x="209.16" y="180.65" width="1.1" height="1.1" fill="#4a2208"/>
<rect x="226.64" y="180.65" width="1.1" height="1.1" fill="#4a2208"/>
<rect x="243.71" y="180.65" width="1.1" height="1.1" fill="#4a2208"/>
<text x="252.68" y="182.10" font-size="2.5" fill="#3a3e4c" text-anchor="start" font-weight="normal" stroke="#3a3e4c" stroke-width="0.08">PR</text>
<rect x="159.27" y="183.95" width="91.21" height="3.3" fill="#c49d36" stroke="#e6cf86" stroke-width="0.4"/>
<rect x="68.40" y="183.95" width="91.17" height="3.3" fill="#4f9a3a" stroke="#93d472" stroke-width="0.5"/>
<rect x="79.80" y="184.90" width="1.4" height="1.4" fill="#0c140a"/>
<rect x="92.16" y="184.90" width="1.4" height="1.4" fill="#0c140a"/>
<rect x="104.51" y="184.90" width="1.4" height="1.4" fill="#0c140a"/>
<rect x="116.87" y="184.90" width="1.4" height="1.4" fill="#0c140a"/>
<rect x="129.23" y="184.90" width="1.4" height="1.4" fill="#0c140a"/>
<rect x="141.59" y="184.90" width="1.4" height="1.4" fill="#0c140a"/>
<rect x="153.95" y="184.90" width="1.4" height="1.4" fill="#0c140a"/>
<rect x="166.46" y="185.05" width="1.1" height="1.1" fill="#4a2208"/>
<rect x="191.22" y="185.05" width="1.1" height="1.1" fill="#4a2208"/>
<rect x="211.87" y="185.05" width="1.1" height="1.1" fill="#4a2208"/>
<rect x="235.39" y="185.05" width="1.1" height="1.1" fill="#4a2208"/>
<text x="252.68" y="186.50" font-size="2.5" fill="#3a3e4c" text-anchor="start" font-weight="normal" stroke="#3a3e4c" stroke-width="0.08">PR</text>
<rect x="141.52" y="188.36" width="102.43" height="3.3" fill="#c49d36" stroke="#e6cf86" stroke-width="0.4"/>
<rect x="68.40" y="188.36" width="73.42" height="3.3" fill="#4f9a3a" stroke="#93d472" stroke-width="0.5"/>
<rect x="80.79" y="189.31" width="1.4" height="1.4" fill="#0c140a"/>
<rect x="92.93" y="189.31" width="1.4" height="1.4" fill="#0c140a"/>
<rect x="105.07" y="189.31" width="1.4" height="1.4" fill="#0c140a"/>
<rect x="117.21" y="189.31" width="1.4" height="1.4" fill="#0c140a"/>
<rect x="129.35" y="189.31" width="1.4" height="1.4" fill="#0c140a"/>
<rect x="141.64" y="189.46" width="1.1" height="1.1" fill="#4a2208"/>
<rect x="163.58" y="189.46" width="1.1" height="1.1" fill="#4a2208"/>
<rect x="187.34" y="189.46" width="1.1" height="1.1" fill="#4a2208"/>
<rect x="208.41" y="189.46" width="1.1" height="1.1" fill="#4a2208"/>
<rect x="231.18" y="189.46" width="1.1" height="1.1" fill="#4a2208"/>
<text x="246.15" y="190.91" font-size="2.5" fill="#3a3e4c" text-anchor="start" font-weight="normal" stroke="#3a3e4c" stroke-width="0.08">PR</text>
<rect x="162.73" y="192.76" width="6.17" height="3.3" fill="#c49d36" stroke="#e6cf86" stroke-width="0.4"/>
<rect x="68.40" y="192.76" width="94.63" height="3.3" fill="#4f9a3a" stroke="#93d472" stroke-width="0.5"/>
<rect x="79.29" y="193.71" width="1.4" height="1.4" fill="#0c140a"/>
<rect x="93.01" y="193.71" width="1.4" height="1.4" fill="#0c140a"/>
<rect x="106.74" y="193.71" width="1.4" height="1.4" fill="#0c140a"/>
<rect x="120.47" y="193.71" width="1.4" height="1.4" fill="#0c140a"/>
<rect x="134.19" y="193.71" width="1.4" height="1.4" fill="#0c140a"/>
<rect x="147.92" y="193.71" width="1.4" height="1.4" fill="#0c140a"/>
<rect x="161.64" y="193.71" width="1.4" height="1.4" fill="#0c140a"/>
<text x="171.10" y="195.31" font-size="2.5" fill="#3a3e4c" text-anchor="start" font-weight="normal" stroke="#3a3e4c" stroke-width="0.08">SD</text>
<rect x="154.90" y="197.16" width="7.48" height="3.3" fill="#c49d36" stroke="#e6cf86" stroke-width="0.4"/>
<rect x="68.40" y="197.16" width="86.80" height="3.3" fill="#4f9a3a" stroke="#93d472" stroke-width="0.5"/>
<rect x="80.66" y="198.11" width="1.4" height="1.4" fill="#0c140a"/>
<rect x="93.20" y="198.11" width="1.4" height="1.4" fill="#0c140a"/>
<rect x="105.73" y="198.11" width="1.4" height="1.4" fill="#0c140a"/>
<rect x="118.26" y="198.11" width="1.4" height="1.4" fill="#0c140a"/>
<rect x="130.80" y="198.11" width="1.4" height="1.4" fill="#0c140a"/>
<rect x="143.33" y="198.11" width="1.4" height="1.4" fill="#0c140a"/>
<rect x="156.01" y="198.26" width="1.1" height="1.1" fill="#4a2208"/>
<text x="164.57" y="199.71" font-size="2.5" fill="#3a3e4c" text-anchor="start" font-weight="normal" stroke="#3a3e4c" stroke-width="0.08">PR</text>
<rect x="120.31" y="201.56" width="19.23" height="3.3" fill="#c49d36" stroke="#e6cf86" stroke-width="0.4"/>
<rect x="68.40" y="201.56" width="52.21" height="3.3" fill="#4f9a3a" stroke="#93d472" stroke-width="0.5"/>
<rect x="81.38" y="202.51" width="1.4" height="1.4" fill="#0c140a"/>
<rect x="94.36" y="202.51" width="1.4" height="1.4" fill="#0c140a"/>
<rect x="107.34" y="202.51" width="1.4" height="1.4" fill="#0c140a"/>
<rect x="120.47" y="202.66" width="1.1" height="1.1" fill="#4a2208"/>
<text x="141.73" y="204.11" font-size="2.5" fill="#3a3e4c" text-anchor="start" font-weight="normal" stroke="#3a3e4c" stroke-width="0.08">SD</text>
<rect x="126.18" y="205.97" width="6.17" height="3.3" fill="#c49d36" stroke="#e6cf86" stroke-width="0.4"/>
<rect x="68.40" y="205.97" width="58.08" height="3.3" fill="#4f9a3a" stroke="#93d472" stroke-width="0.5"/>
<rect x="81.41" y="206.92" width="1.4" height="1.4" fill="#0c140a"/>
<rect x="95.03" y="206.92" width="1.4" height="1.4" fill="#0c140a"/>
<rect x="108.64" y="206.92" width="1.4" height="1.4" fill="#0c140a"/>
<rect x="122.25" y="206.92" width="1.4" height="1.4" fill="#0c140a"/>
<text x="134.55" y="208.52" font-size="2.5" fill="#3a3e4c" text-anchor="start" font-weight="normal" stroke="#3a3e4c" stroke-width="0.08">PR</text>
<rect x="109.21" y="210.37" width="4.87" height="3.3" fill="#c49d36" stroke="#e6cf86" stroke-width="0.4"/>
<rect x="68.40" y="210.37" width="41.11" height="3.3" fill="#4f9a3a" stroke="#93d472" stroke-width="0.5"/>
<rect x="81.52" y="211.32" width="1.4" height="1.4" fill="#0c140a"/>
<rect x="94.30" y="211.32" width="1.4" height="1.4" fill="#0c140a"/>
<rect x="107.08" y="211.32" width="1.4" height="1.4" fill="#0c140a"/>
<text x="116.28" y="212.92" font-size="2.5" fill="#3a3e4c" text-anchor="start" font-weight="normal" stroke="#3a3e4c" stroke-width="0.08">SD</text>
<rect x="99.10" y="214.77" width="6.50" height="3.3" fill="#c49d36" stroke="#e6cf86" stroke-width="0.4"/>
<rect x="68.40" y="214.77" width="31.00" height="3.3" fill="#4f9a3a" stroke="#93d472" stroke-width="0.5"/>
<rect x="81.21" y="215.72" width="1.4" height="1.4" fill="#0c140a"/>
<rect x="94.12" y="215.72" width="1.4" height="1.4" fill="#0c140a"/>
<text x="107.80" y="217.32" font-size="2.5" fill="#3a3e4c" text-anchor="start" font-weight="normal" stroke="#3a3e4c" stroke-width="0.08">PD</text>
<rect x="98.12" y="219.18" width="5.65" height="3.3" fill="#c49d36" stroke="#e6cf86" stroke-width="0.4"/>
<rect x="68.40" y="219.18" width="30.02" height="3.3" fill="#4f9a3a" stroke="#93d472" stroke-width="0.5"/>
<rect x="81.56" y="220.13" width="1.4" height="1.4" fill="#0c140a"/>
<rect x="95.60" y="220.13" width="1.4" height="1.4" fill="#0c140a"/>
<text x="105.97" y="221.73" font-size="2.5" fill="#3a3e4c" text-anchor="start" font-weight="normal" stroke="#3a3e4c" stroke-width="0.08">PD</text>
<rect x="97.47" y="223.58" width="3.56" height="3.3" fill="#c49d36" stroke="#e6cf86" stroke-width="0.4"/>
<rect x="68.40" y="223.58" width="29.37" height="3.3" fill="#4f9a3a" stroke="#93d472" stroke-width="0.5"/>
<rect x="79.37" y="224.53" width="1.4" height="1.4" fill="#0c140a"/>
<rect x="91.48" y="224.53" width="1.4" height="1.4" fill="#0c140a"/>
<text x="103.23" y="226.13" font-size="2.5" fill="#3a3e4c" text-anchor="start" font-weight="normal" stroke="#3a3e4c" stroke-width="0.08">SD</text>
<rect x="96.81" y="227.98" width="3.69" height="3.3" fill="#c49d36" stroke="#e6cf86" stroke-width="0.4"/>
<rect x="68.40" y="227.98" width="28.71" height="3.3" fill="#4f9a3a" stroke="#93d472" stroke-width="0.5"/>
<rect x="79.69" y="228.93" width="1.4" height="1.4" fill="#0c140a"/>
<rect x="93.95" y="228.93" width="1.4" height="1.4" fill="#0c140a"/>
<text x="102.71" y="230.53" font-size="2.5" fill="#3a3e4c" text-anchor="start" font-weight="normal" stroke="#3a3e4c" stroke-width="0.08">SD</text>
<rect x="95.18" y="232.39" width="3.89" height="3.3" fill="#c49d36" stroke="#e6cf86" stroke-width="0.4"/>
<rect x="68.40" y="232.39" width="27.08" height="3.3" fill="#4f9a3a" stroke="#93d472" stroke-width="0.5"/>
<rect x="80.26" y="233.34" width="1.4" height="1.4" fill="#0c140a"/>
<rect x="93.64" y="233.34" width="1.4" height="1.4" fill="#0c140a"/>
<text x="101.27" y="234.94" font-size="2.5" fill="#3a3e4c" text-anchor="start" font-weight="normal" stroke="#3a3e4c" stroke-width="0.08">PD</text>
<rect x="95.18" y="236.79" width="3.24" height="3.3" fill="#c49d36" stroke="#e6cf86" stroke-width="0.4"/>
<rect x="68.40" y="236.79" width="27.08" height="3.3" fill="#4f9a3a" stroke="#93d472" stroke-width="0.5"/>
<rect x="79.91" y="237.74" width="1.4" height="1.4" fill="#0c140a"/>
<rect x="92.98" y="237.74" width="1.4" height="1.4" fill="#0c140a"/>
<text x="100.62" y="239.34" font-size="2.5" fill="#3a3e4c" text-anchor="start" font-weight="normal" stroke="#3a3e4c" stroke-width="0.08">SD</text>
<rect x="94.53" y="241.19" width="3.50" height="3.3" fill="#c49d36" stroke="#e6cf86" stroke-width="0.4"/>
<rect x="68.40" y="241.19" width="26.43" height="3.3" fill="#4f9a3a" stroke="#93d472" stroke-width="0.5"/>
<rect x="80.13" y="242.14" width="1.4" height="1.4" fill="#0c140a"/>
<rect x="92.79" y="242.14" width="1.4" height="1.4" fill="#0c140a"/>
<text x="100.23" y="243.74" font-size="2.5" fill="#3a3e4c" text-anchor="start" font-weight="normal" stroke="#3a3e4c" stroke-width="0.08">PD</text>
<rect x="94.20" y="245.59" width="3.24" height="3.3" fill="#c49d36" stroke="#e6cf86" stroke-width="0.4"/>
<rect x="68.40" y="245.59" width="26.10" height="3.3" fill="#4f9a3a" stroke="#93d472" stroke-width="0.5"/>
<rect x="80.65" y="246.54" width="1.4" height="1.4" fill="#0c140a"/>
<text x="99.64" y="248.14" font-size="2.5" fill="#3a3e4c" text-anchor="start" font-weight="normal" stroke="#3a3e4c" stroke-width="0.08">PD</text>
<rect x="93.55" y="250.00" width="3.56" height="3.3" fill="#c49d36" stroke="#e6cf86" stroke-width="0.4"/>
<rect x="68.40" y="250.00" width="25.45" height="3.3" fill="#4f9a3a" stroke="#93d472" stroke-width="0.5"/>
<rect x="80.90" y="250.95" width="1.4" height="1.4" fill="#0c140a"/>
<text x="99.31" y="252.55" font-size="2.5" fill="#3a3e4c" text-anchor="start" font-weight="normal" stroke="#3a3e4c" stroke-width="0.08">PD</text>
<rect x="92.90" y="254.40" width="3.89" height="3.3" fill="#c49d36" stroke="#e6cf86" stroke-width="0.4"/>
<rect x="68.40" y="254.40" width="24.80" height="3.3" fill="#4f9a3a" stroke="#93d472" stroke-width="0.5"/>
<rect x="81.36" y="255.35" width="1.4" height="1.4" fill="#0c140a"/>
<text x="98.99" y="256.95" font-size="2.5" fill="#3a3e4c" text-anchor="start" font-weight="normal" stroke="#3a3e4c" stroke-width="0.08">SD</text>
<rect x="93.55" y="258.80" width="2.91" height="3.3" fill="#c49d36" stroke="#e6cf86" stroke-width="0.4"/>
<rect x="68.40" y="258.80" width="25.45" height="3.3" fill="#4f9a3a" stroke="#93d472" stroke-width="0.5"/>
<rect x="80.87" y="259.75" width="1.4" height="1.4" fill="#0c140a"/>
<rect x="93.05" y="259.75" width="1.4" height="1.4" fill="#0c140a"/>
<text x="98.66" y="261.35" font-size="2.5" fill="#3a3e4c" text-anchor="start" font-weight="normal" stroke="#3a3e4c" stroke-width="0.08">PD</text>
<rect x="80.83" y="263.21" width="15.31" height="3.3" fill="#d98a2a" stroke="#e6cf86" stroke-width="0.4"/>
<rect x="68.40" y="263.21" width="12.73" height="3.3" fill="#4f9a3a" stroke="#93d472" stroke-width="0.5"/>
<text x="98.34" y="265.76" font-size="2.5" fill="#3a3e4c" text-anchor="start" font-weight="normal" stroke="#3a3e4c" stroke-width="0.08">PD</text>
<rect x="93.09" y="267.61" width="2.32" height="3.3" fill="#c49d36" stroke="#e6cf86" stroke-width="0.4"/>
<rect x="68.40" y="267.61" width="24.99" height="3.3" fill="#4f9a3a" stroke="#93d472" stroke-width="0.5"/>
<rect x="80.61" y="268.56" width="1.4" height="1.4" fill="#0c140a"/>
<text x="97.62" y="270.16" font-size="2.5" fill="#3a3e4c" text-anchor="start" font-weight="normal" stroke="#3a3e4c" stroke-width="0.08">PD</text>
<rect x="92.05" y="272.01" width="1.93" height="3.3" fill="#c49d36" stroke="#e6cf86" stroke-width="0.4"/>
<rect x="68.40" y="272.01" width="23.95" height="3.3" fill="#4f9a3a" stroke="#93d472" stroke-width="0.5"/>
<rect x="79.67" y="272.96" width="1.4" height="1.4" fill="#0c140a"/>
<text x="96.18" y="274.56" font-size="2.5" fill="#3a3e4c" text-anchor="start" font-weight="normal" stroke="#3a3e4c" stroke-width="0.08">PD</text>
<rect x="79.98" y="276.42" width="11.39" height="3.3" fill="#c49d36" stroke="#e6cf86" stroke-width="0.4"/>
<rect x="68.40" y="276.42" width="11.88" height="3.3" fill="#4f9a3a" stroke="#93d472" stroke-width="0.5"/>
<text x="93.57" y="278.97" font-size="2.5" fill="#3a3e4c" text-anchor="start" font-weight="normal" stroke="#3a3e4c" stroke-width="0.08">PD ‡</text>
<rect x="81.15" y="280.82" width="4.22" height="3.3" fill="#c49d36" stroke="#e6cf86" stroke-width="0.4"/>
<rect x="68.40" y="280.82" width="13.05" height="3.3" fill="#4f9a3a" stroke="#93d472" stroke-width="0.5"/>
<text x="87.57" y="283.37" font-size="2.5" fill="#3a3e4c" text-anchor="start" font-weight="normal" stroke="#3a3e4c" stroke-width="0.08">PD</text>
<rect x="81.15" y="285.22" width="3.56" height="3.3" fill="#c49d36" stroke="#e6cf86" stroke-width="0.4"/>
<rect x="68.40" y="285.22" width="13.05" height="3.3" fill="#4f9a3a" stroke="#93d472" stroke-width="0.5"/>
<text x="86.92" y="287.77" font-size="2.5" fill="#3a3e4c" text-anchor="start" font-weight="normal" stroke="#3a3e4c" stroke-width="0.08">PD</text>
<rect x="81.15" y="289.62" width="3.56" height="3.3" fill="#c49d36" stroke="#e6cf86" stroke-width="0.4"/>
<rect x="68.40" y="289.62" width="13.05" height="3.3" fill="#4f9a3a" stroke="#93d472" stroke-width="0.5"/>
<rect x="79.89" y="290.57" width="1.4" height="1.4" fill="#0c140a"/>
<text x="86.92" y="292.17" font-size="2.5" fill="#3a3e4c" text-anchor="start" font-weight="normal" stroke="#3a3e4c" stroke-width="0.08">PD</text>
<rect x="81.80" y="294.03" width="1.28" height="3.3" fill="#c49d36" stroke="#e6cf86" stroke-width="0.4"/>
<rect x="68.40" y="294.03" width="13.70" height="3.3" fill="#4f9a3a" stroke="#93d472" stroke-width="0.5"/>
<text x="85.28" y="296.58" font-size="2.5" fill="#3a3e4c" text-anchor="start" font-weight="normal" stroke="#3a3e4c" stroke-width="0.08">PD</text>
<rect x="81.80" y="298.43" width="0.95" height="3.3" fill="#c49d36" stroke="#e6cf86" stroke-width="0.4"/>
<rect x="68.40" y="298.43" width="13.70" height="3.3" fill="#4f9a3a" stroke="#93d472" stroke-width="0.5"/>
<text x="84.96" y="300.98" font-size="2.5" fill="#3a3e4c" text-anchor="start" font-weight="normal" stroke="#3a3e4c" stroke-width="0.08">PD</text>
<rect x="81.15" y="302.83" width="0.95" height="3.3" fill="#c49d36" stroke="#e6cf86" stroke-width="0.4"/>
<rect x="68.40" y="302.83" width="13.05" height="3.3" fill="#4f9a3a" stroke="#93d472" stroke-width="0.5"/>
<text x="84.30" y="305.38" font-size="2.5" fill="#3a3e4c" text-anchor="start" font-weight="normal" stroke="#3a3e4c" stroke-width="0.08">PD</text>
<rect x="81.15" y="307.24" width="0.95" height="3.3" fill="#c49d36" stroke="#e6cf86" stroke-width="0.4"/>
<rect x="68.40" y="307.24" width="13.05" height="3.3" fill="#4f9a3a" stroke="#93d472" stroke-width="0.5"/>
<text x="84.30" y="309.79" font-size="2.5" fill="#3a3e4c" text-anchor="start" font-weight="normal" stroke="#3a3e4c" stroke-width="0.08">PD</text>
<rect x="80.50" y="311.64" width="0.63" height="3.3" fill="#c49d36" stroke="#e6cf86" stroke-width="0.4"/>
<rect x="68.40" y="311.64" width="12.40" height="3.3" fill="#4f9a3a" stroke="#93d472" stroke-width="0.5"/>
<text x="83.33" y="314.19" font-size="2.5" fill="#3a3e4c" text-anchor="start" font-weight="normal" stroke="#3a3e4c" stroke-width="0.08">PD</text>
<rect x="78.54" y="316.04" width="0.95" height="3.3" fill="#c49d36" stroke="#e6cf86" stroke-width="0.4"/>
<rect x="68.40" y="316.04" width="10.44" height="3.3" fill="#4f9a3a" stroke="#93d472" stroke-width="0.5"/>
<text x="81.69" y="318.59" font-size="2.5" fill="#3a3e4c" text-anchor="start" font-weight="normal" stroke="#3a3e4c" stroke-width="0.08">PD †</text>
<rect x="76.58" y="320.45" width="2.58" height="3.3" fill="#c49d36" stroke="#e6cf86" stroke-width="0.4"/>
<rect x="68.40" y="320.45" width="8.48" height="3.3" fill="#4f9a3a" stroke="#93d472" stroke-width="0.5"/>
<text x="81.37" y="323.00" font-size="2.5" fill="#3a3e4c" text-anchor="start" font-weight="normal" stroke="#3a3e4c" stroke-width="0.08">PD</text>
<text x="212.30" y="259.40" font-size="3.0" fill="#111" text-anchor="start" font-weight="normal"  stroke="#111" stroke-width="0.07">RECIST /</text>
<text x="229.30" y="259.40" font-size="3.0" fill="#e8404a" text-anchor="start" font-weight="normal"  stroke="#e8404a" stroke-width="0.07">iRECIST</text>
<circle cx="213" cy="264.4" r="0.55" fill="#333"/>
<text x="216.60" y="265.55" font-size="3.2" fill="#151515" text-anchor="start" font-weight="normal"  stroke="#151515" stroke-width="0.07">CR</text>
<circle cx="230.4" cy="264.4" r="0.55" fill="#b0304a"/>
<text x="234.00" y="265.55" font-size="3.2" fill="#e8404a" text-anchor="start" font-weight="normal"  stroke="#e8404a" stroke-width="0.07">iCR</text>
<path d="M212.0 270.1 L214.0 270.1 L213 268.3 Z" fill="#111"/>
<text x="216.60" y="270.45" font-size="3.2" fill="#151515" text-anchor="start" font-weight="normal"  stroke="#151515" stroke-width="0.07">PR</text>
<path d="M229.4 270.1 L231.4 270.1 L230.4 268.3 Z" fill="#b0203a"/>
<text x="234.00" y="270.45" font-size="3.2" fill="#e8404a" text-anchor="start" font-weight="normal"  stroke="#e8404a" stroke-width="0.07">iPR</text>
<rect x="212.15" y="273.34999999999997" width="1.7" height="1.7" fill="#050505"/>
<text x="216.60" y="275.35" font-size="3.2" fill="#151515" text-anchor="start" font-weight="normal"  stroke="#151515" stroke-width="0.07">SD</text>
<rect x="229.55" y="273.34999999999997" width="1.7" height="1.7" fill="#c01840"/>
<text x="234.00" y="275.35" font-size="3.2" fill="#e8404a" text-anchor="start" font-weight="normal"  stroke="#e8404a" stroke-width="0.07">iSD</text>
<circle cx="213" cy="279.1" r="0.85" fill="#aaa" stroke="#444" stroke-width="0.3"/>
<text x="216.60" y="280.25" font-size="3.2" fill="#151515" text-anchor="start" font-weight="normal"  stroke="#151515" stroke-width="0.07">PD</text>
<circle cx="230.4" cy="279.1" r="0.85" fill="#f0a0b0" stroke="#c03050" stroke-width="0.3"/>
<text x="234.00" y="280.25" font-size="3.2" fill="#e8404a" text-anchor="start" font-weight="normal"  stroke="#e8404a" stroke-width="0.07">iUPD</text>
<rect x="229.55" y="283.04999999999995" width="1.7" height="1.7" fill="#a00828"/>
<text x="234.00" y="285.05" font-size="3.2" fill="#e8404a" text-anchor="start" font-weight="normal"  stroke="#e8404a" stroke-width="0.07">iCPD</text>
<rect x="211.6" y="290.9" width="3.6" height="1.3" fill="#6f8a2e"/>
<text x="217.00" y="292.60" font-size="3.05" fill="#9ab488" text-anchor="start" font-weight="normal"  stroke="#9ab488" stroke-width="0.07">On treatment</text>
<rect x="211.6" y="295.6" width="3.6" height="1.3" fill="#d9c64c"/>
<text x="217.00" y="297.30" font-size="3.05" fill="#d4c068" text-anchor="start" font-weight="normal"  stroke="#d4c068" stroke-width="0.07">Follow-up</text>
<text x="212.60" y="308.10" font-size="3.0" fill="#111" text-anchor="start" font-weight="normal"  stroke="#111" stroke-width="0.07">†</text>
<text x="217.20" y="308.10" font-size="2.85" fill="#111" text-anchor="start" font-weight="bold"  stroke="#111" stroke-width="0.14">Death on treatment</text>
<text x="212.60" y="311.20" font-size="3.0" fill="#111" text-anchor="start" font-weight="normal"  stroke="#111" stroke-width="0.07">‡</text>
<text x="217.20" y="311.20" font-size="2.85" fill="#111" text-anchor="start" font-weight="bold"  stroke="#111" stroke-width="0.14">Death during F/U</text>
</g>
<g id="panelD">
<text x="286.80" y="116.40" font-size="13.2" fill="#000" text-anchor="start" font-weight="bold" >D</text>
<text x="371.90" y="109.70" font-size="5.9" fill="#111" text-anchor="middle" font-weight="normal"  stroke="#111" stroke-width="0.16">Baseline</text>
<text x="443.20" y="109.70" font-size="5.9" fill="#111" text-anchor="middle" font-weight="normal"  stroke="#111" stroke-width="0.16">2 Months on</text>
<text x="304.90" y="137.10" font-size="4.8" fill="#151515" text-anchor="start" font-weight="normal"  stroke="#151515" stroke-width="0.16">Metastatic</text>
<text x="304.90" y="142.80" font-size="4.8" fill="#151515" text-anchor="start" font-weight="normal"  stroke="#151515" stroke-width="0.16">liver lesion</text>
<text x="304.90" y="178.00" font-size="4.8" fill="#151515" text-anchor="start" font-weight="normal"  stroke="#151515" stroke-width="0.16">Mesenteric</text>
<text x="304.90" y="183.60" font-size="4.8" fill="#151515" text-anchor="start" font-weight="normal"  stroke="#151515" stroke-width="0.16">lesion</text>
<defs>
<filter id="blur1" x="-5%" y="-5%" width="110%" height="110%"><feGaussianBlur stdDeviation="0.75"/></filter>
<clipPath id="clip0"><rect x="334.8" y="111.8" width="69.3" height="57.7"/></clipPath>
<clipPath id="clip1"><rect x="406.1" y="111.8" width="69.15" height="57.7"/></clipPath>
<clipPath id="clip2"><rect x="334.8" y="171.3" width="69.3" height="51.1"/></clipPath>
<clipPath id="clip3"><rect x="406.1" y="171.3" width="69.15" height="51.1"/></clipPath>
</defs>
<g clip-path="url(#clip0)">
<rect x="334.8" y="111.8" width="69.3" height="57.7" fill="#040404"/>
<g filter="url(#blur1)">
<path d="M401.3 141.0 L401.1 145.3 L400.4 148.8 L399.2 152.1 L397.6 155.0 L395.6 157.7 L393.1 160.1 L390.3 162.2 L387.1 163.9 L383.6 165.2 L379.8 166.2 L375.5 166.8 L370.5 167.0 L365.5 166.8 L361.2 166.2 L357.4 165.2 L353.9 163.9 L350.7 162.2 L347.9 160.1 L345.4 157.7 L343.4 155.0 L341.8 152.1 L340.6 148.8 L339.9 145.3 L339.7 141.0 L339.9 136.7 L340.6 133.2 L341.8 129.9 L343.4 127.0 L345.4 124.3 L347.9 121.9 L350.7 119.8 L353.9 118.1 L357.4 116.8 L361.2 115.8 L365.5 115.2 L370.5 115.0 L375.5 115.2 L379.8 115.8 L383.6 116.8 L387.1 118.1 L390.3 119.8 L393.1 121.9 L395.6 124.3 L397.6 127.0 L399.2 129.9 L400.4 133.2 L401.1 136.7 Z" fill="#222222" stroke="#505050" stroke-width="0.5" stroke-linecap="round" stroke-linejoin="round"/>
<path d="M397.4 141.4 L397.2 144.7 L396.5 147.6 L395.5 150.4 L394.0 152.9 L392.2 155.2 L390.0 157.3 L387.5 159.1 L384.6 160.6 L381.5 161.7 L378.2 162.6 L374.5 163.1 L370.5 163.3 L366.5 163.1 L362.8 162.6 L359.5 161.7 L356.4 160.6 L353.5 159.1 L351.0 157.3 L348.8 155.2 L347.0 152.9 L345.5 150.4 L344.5 147.6 L343.8 144.7 L343.6 141.4 L343.8 138.1 L344.5 135.2 L345.5 132.4 L347.0 129.9 L348.8 127.6 L351.0 125.5 L353.5 123.7 L356.4 122.2 L359.5 121.1 L362.8 120.2 L366.5 119.7 L370.5 119.5 L374.5 119.7 L378.2 120.2 L381.5 121.1 L384.6 122.2 L387.5 123.7 L390.0 125.5 L392.2 127.6 L394.0 129.9 L395.5 132.4 L396.5 135.2 L397.2 138.1 Z" fill="#262626" stroke="#7e7e7e" stroke-width="1.3" stroke-linecap="round" stroke-linejoin="round"/>
<path d="M353.3 159.3 C354.1 157.9,359.6 157.1,362.4 157.3 C365.2 157.4,367.4 160.1,369.9 160.1 C372.4 160.1,374.6 157.5,377.6 157.3 C380.6 157.1,386.8 157.5,387.7 158.9 C388.6 160.2,386.0 164.0,383.1 165.4 C380.1 166.7,374.2 167.0,369.9 167.0 C365.6 167.0,360.1 166.6,357.3 165.4 C354.6 164.1,352.4 160.6,353.3 159.3 Z" fill="#6c6c6c"/>
<path d="M356.3 124.8 C354.4 125.4,350.6 129.2,348.6 132.3 C346.7 135.4,345.1 139.9,344.8 143.5 C344.5 147.0,345.8 151.4,347.0 153.6 C348.2 155.8,350.5 157.1,351.9 156.8 C353.3 156.6,354.4 153.9,355.5 152.0 C356.6 150.1,357.7 147.9,358.6 145.5 C359.4 143.1,360.3 140.1,360.6 137.4 C360.9 134.7,361.1 131.4,360.4 129.3 C359.7 127.2,358.3 124.3,356.3 124.8 Z" fill="#a6a6a6"/>
<ellipse cx="350.9" cy="140.4" rx="2.6" ry="3.6" fill="#8a8a8a"/>
<ellipse cx="363.0" cy="130.3" rx="2.2" ry="4.5" fill="#0c0c0c"/>
<ellipse cx="369.5" cy="125.3" rx="8.5" ry="2.4" fill="#080808"/>
<path d="M362.4 137.4 C363.4 136.1,366.3 135.0,368.5 135.0 C370.7 134.9,374.5 135.6,375.6 137.0 C376.6 138.4,376.1 141.8,375.0 143.1 C373.8 144.4,370.5 144.8,368.5 144.7 C366.5 144.6,363.8 143.9,362.8 142.7 C361.8 141.5,361.5 138.7,362.4 137.4 Z" fill="#959595"/>
<ellipse cx="366.5" cy="139.4" rx="2.2" ry="1.8" fill="#c8c8c8"/>
<path d="M367.1 129.1 L377.8 126.5 L380.0 128.7 L370.9 132.7 Z" fill="#ffffff"/>
<ellipse cx="379.4" cy="138.6" rx="4.0" ry="5.6" fill="#ffffff"/>
<ellipse cx="380.4" cy="137.4" rx="1.5" ry="2.0" fill="#222"/>
<ellipse cx="380.6" cy="140.6" rx="1.4" ry="1.6" fill="#333"/>
<ellipse cx="384.3" cy="135.4" rx="2.6" ry="2.0" fill="#b8b8b8"/>
<ellipse cx="387.7" cy="135.4" rx="3.6" ry="4.2" fill="#101010" stroke="#777" stroke-width="0.5"/>
<ellipse cx="389.1" cy="141.1" rx="2.6" ry="2.2" fill="#9a9a9a"/>
<ellipse cx="392.0" cy="147.1" rx="4.0" ry="8.6" fill="#a8a8a8" transform="rotate(-8 392.0 147.1)"/>
<ellipse cx="358.4" cy="153.6" rx="5.2" ry="3.8" fill="#d8d8d8" transform="rotate(-32 358.4 153.6)"/>
<ellipse cx="358.6" cy="154.0" rx="2.8" ry="1.5" fill="#4a4a4a" transform="rotate(-32 358.6 154.0)"/>
<ellipse cx="380.6" cy="152.0" rx="4.6" ry="5.2" fill="#d4d4d4" transform="rotate(10 380.6 152.0)"/>
<ellipse cx="380.2" cy="152.4" rx="2.2" ry="2.8" fill="#202020" transform="rotate(10 380.2 152.4)"/>
<ellipse cx="371.9" cy="145.5" rx="1.5" ry="1.5" fill="#f0f0f0"/>
<ellipse cx="368.5" cy="146.5" rx="1.3" ry="1.3" fill="#d0d0d0"/>
<ellipse cx="369.9" cy="153.6" rx="4.0" ry="3.9" fill="#f6f6f6"/>
<ellipse cx="369.9" cy="153.2" rx="1.8" ry="1.6" fill="#b0b0b0"/>
<ellipse cx="369.9" cy="158.9" rx="1.4" ry="1.2" fill="#222"/>
<path d="M366.5 159.3 L369.9 161.3 L373.3 159.3 M369.9 161.3 L369.9 164.9" fill="none" stroke="#bdbdbd" stroke-width="0.9" stroke-linecap="round" stroke-linejoin="round"/>
<ellipse cx="344.2" cy="135.4" rx="0.9" ry="1.6" fill="#c8c8c8"/>
<ellipse cx="342.6" cy="145.5" rx="0.9" ry="1.6" fill="#c8c8c8"/>
<ellipse cx="345.2" cy="155.6" rx="0.9" ry="1.6" fill="#c8c8c8"/>
<ellipse cx="396.8" cy="135.4" rx="0.9" ry="1.6" fill="#c8c8c8"/>
<ellipse cx="398.5" cy="145.5" rx="0.9" ry="1.6" fill="#c8c8c8"/>
<ellipse cx="395.2" cy="155.6" rx="0.9" ry="1.6" fill="#c8c8c8"/>
<ellipse cx="351.3" cy="162.7" rx="0.9" ry="1.6" fill="#c8c8c8"/>
<ellipse cx="388.7" cy="162.7" rx="0.9" ry="1.6" fill="#c8c8c8"/>
</g></g>
<g clip-path="url(#clip1)">
<rect x="406.1" y="111.8" width="69.15" height="57.7" fill="#040404"/>
<g filter="url(#blur1)">
<path d="M471.3 141.0 L471.1 145.3 L470.4 148.8 L469.2 152.1 L467.7 155.0 L465.6 157.7 L463.2 160.1 L460.5 162.2 L457.3 163.9 L453.8 165.2 L450.0 166.2 L445.9 166.8 L440.9 167.0 L435.9 166.8 L431.8 166.2 L428.0 165.2 L424.5 163.9 L421.3 162.2 L418.6 160.1 L416.2 157.7 L414.1 155.0 L412.6 152.1 L411.4 148.8 L410.7 145.3 L410.5 141.0 L410.7 136.7 L411.4 133.2 L412.6 129.9 L414.1 127.0 L416.2 124.3 L418.6 121.9 L421.3 119.8 L424.5 118.1 L428.0 116.8 L431.8 115.8 L435.9 115.2 L440.9 115.0 L445.9 115.2 L450.0 115.8 L453.8 116.8 L457.3 118.1 L460.5 119.8 L463.2 121.9 L465.6 124.3 L467.7 127.0 L469.2 129.9 L470.4 133.2 L471.1 136.7 Z" fill="#222222" stroke="#505050" stroke-width="0.5" stroke-linecap="round" stroke-linejoin="round"/>
<path d="M467.5 141.4 L467.3 144.7 L466.7 147.7 L465.6 150.4 L464.2 152.9 L462.3 155.3 L460.2 157.3 L457.7 159.1 L454.9 160.6 L451.8 161.8 L448.5 162.7 L444.9 163.2 L440.9 163.4 L436.9 163.2 L433.3 162.7 L430.0 161.8 L426.9 160.6 L424.1 159.1 L421.6 157.3 L419.5 155.3 L417.6 152.9 L416.2 150.4 L415.1 147.7 L414.5 144.7 L414.3 141.4 L414.5 138.1 L415.1 135.1 L416.2 132.4 L417.6 129.9 L419.5 127.5 L421.6 125.5 L424.1 123.7 L426.9 122.2 L430.0 121.0 L433.3 120.1 L436.9 119.6 L440.9 119.4 L444.9 119.6 L448.5 120.1 L451.8 121.0 L454.9 122.2 L457.7 123.7 L460.2 125.5 L462.3 127.5 L464.2 129.9 L465.6 132.4 L466.7 135.1 L467.3 138.1 Z" fill="#141414" stroke="#7e7e7e" stroke-width="1.3" stroke-linecap="round" stroke-linejoin="round"/>
<path d="M424.3 159.3 C425.1 157.9,430.5 157.1,433.4 157.3 C436.3 157.4,438.8 160.1,441.5 160.1 C444.2 160.1,446.7 157.5,449.6 157.3 C452.6 157.1,458.3 157.5,459.1 158.9 C460.0 160.2,457.6 164.0,454.7 165.4 C451.7 166.7,445.9 167.0,441.5 167.0 C437.1 167.0,431.2 166.6,428.4 165.4 C425.5 164.1,423.5 160.6,424.3 159.3 Z" fill="#707070"/>
<path d="M425.3 126.9 C423.5 127.5,419.5 131.9,417.8 135.0 C416.1 138.1,415.1 142.3,415.0 145.5 C414.9 148.7,415.5 152.7,417.0 154.4 C418.5 156.2,422.1 156.6,423.9 156.0 C425.7 155.4,426.4 152.5,427.5 150.8 C428.7 149.0,430.0 147.5,430.6 145.5 C431.1 143.5,431.1 141.4,430.8 139.0 C430.5 136.7,429.7 133.4,428.8 131.3 C427.8 129.3,427.1 126.3,425.3 126.9 Z" fill="#b8b8b8"/>
<path d="M417.4 148.9 H423.5" fill="none" stroke="#7a7a7a" stroke-width="1.2" stroke-linecap="round" stroke-linejoin="round"/>
<path d="M433.4 137.4 C434.5 135.4,437.6 133.7,440.5 133.4 C443.4 133.0,448.3 133.9,450.6 135.4 C452.9 136.9,454.3 140.3,454.3 142.5 C454.3 144.7,452.9 147.4,450.6 148.5 C448.3 149.7,443.3 149.7,440.5 149.2 C437.7 148.6,435.2 147.5,434.0 145.5 C432.8 143.5,432.3 139.4,433.4 137.4 Z" fill="#8e8e8e"/>
<ellipse cx="441.5" cy="128.9" rx="6.5" ry="2.4" fill="#b4b4b4" transform="rotate(-8 441.5 128.9)"/>
<ellipse cx="449.6" cy="130.9" rx="4.5" ry="2.6" fill="#a8a8a8" transform="rotate(10 449.6 130.9)"/>
<ellipse cx="446.2" cy="143.5" rx="2.2" ry="3.2" fill="#e4e4e4"/>
<ellipse cx="440.5" cy="141.5" rx="2.0" ry="2.6" fill="#c8c8c8"/>
<ellipse cx="448.2" cy="148.5" rx="1.6" ry="1.6" fill="#f0f0f0"/>
<ellipse cx="437.1" cy="137.4" rx="1.4" ry="3.0" fill="#bdbdbd"/>
<ellipse cx="458.7" cy="135.4" rx="6.5" ry="7.5" fill="#060606"/>
<ellipse cx="436.5" cy="125.3" rx="5.0" ry="2.2" fill="#050505"/>
<ellipse cx="464.4" cy="148.5" rx="4.0" ry="9.6" fill="#b6b6b6" transform="rotate(-5 464.4 148.5)"/>
<ellipse cx="427.3" cy="154.6" rx="5.4" ry="3.8" fill="#d8d8d8" transform="rotate(-30 427.3 154.6)"/>
<ellipse cx="427.7" cy="155.0" rx="3.0" ry="1.5" fill="#707070" transform="rotate(-30 427.7 155.0)"/>
<ellipse cx="451.6" cy="153.6" rx="4.8" ry="4.5" fill="#d0d0d0"/>
<ellipse cx="452.1" cy="153.6" rx="2.6" ry="2.4" fill="#202020"/>
<ellipse cx="441.5" cy="153.6" rx="4.0" ry="3.9" fill="#f6f6f6"/>
<ellipse cx="441.5" cy="153.6" rx="2.2" ry="2.0" fill="#a8a8a8"/>
<path d="M438.5 159.7 L441.5 161.7 L444.6 159.7 M441.5 161.7 L441.5 165.4" fill="none" stroke="#c4c4c4" stroke-width="0.9" stroke-linecap="round" stroke-linejoin="round"/>
<ellipse cx="414.6" cy="135.4" rx="0.9" ry="1.6" fill="#c8c8c8"/>
<ellipse cx="413.0" cy="145.5" rx="0.9" ry="1.6" fill="#c8c8c8"/>
<ellipse cx="415.8" cy="155.6" rx="0.9" ry="1.6" fill="#c8c8c8"/>
<ellipse cx="468.5" cy="135.4" rx="0.9" ry="1.6" fill="#c8c8c8"/>
<ellipse cx="470.1" cy="145.5" rx="0.9" ry="1.6" fill="#c8c8c8"/>
<ellipse cx="466.8" cy="155.6" rx="0.9" ry="1.6" fill="#c8c8c8"/>
<ellipse cx="422.3" cy="162.7" rx="0.9" ry="1.6" fill="#c8c8c8"/>
<ellipse cx="460.4" cy="162.7" rx="0.9" ry="1.6" fill="#c8c8c8"/>
</g></g>
<g clip-path="url(#clip2)">
<rect x="334.8" y="171.3" width="69.3" height="51.1" fill="#040404"/>
<g filter="url(#blur1)">
<path d="M402.9 196.9 L402.7 202.0 L402.0 205.6 L401.0 208.7 L399.5 211.3 L397.6 213.7 L395.3 215.7 L392.6 217.5 L389.4 218.9 L385.9 220.0 L381.8 220.9 L377.1 221.3 L370.3 221.5 L363.5 221.3 L358.8 220.9 L354.7 220.0 L351.2 218.9 L348.0 217.5 L345.3 215.7 L343.0 213.7 L341.1 211.3 L339.6 208.7 L338.6 205.6 L337.9 202.0 L337.7 196.9 L337.9 191.8 L338.6 188.2 L339.6 185.1 L341.1 182.5 L343.0 180.1 L345.3 178.1 L348.0 176.3 L351.2 174.9 L354.7 173.8 L358.8 172.9 L363.5 172.5 L370.3 172.3 L377.1 172.5 L381.8 172.9 L385.9 173.8 L389.4 174.9 L392.6 176.3 L395.3 178.1 L397.6 180.1 L399.5 182.5 L401.0 185.1 L402.0 188.2 L402.7 191.8 Z" fill="#3a3a3a" stroke="#808080" stroke-width="0.6" stroke-linecap="round" stroke-linejoin="round"/>
<path d="M398.3 195.5 L398.1 199.1 L397.5 201.9 L396.5 204.3 L395.1 206.5 L393.4 208.5 L391.3 210.2 L388.8 211.7 L386.0 212.9 L382.9 213.8 L379.4 214.5 L375.4 215.0 L370.3 215.1 L365.2 215.0 L361.2 214.5 L357.7 213.8 L354.6 212.9 L351.8 211.7 L349.3 210.2 L347.2 208.5 L345.5 206.5 L344.1 204.3 L343.1 201.9 L342.5 199.1 L342.3 195.5 L342.5 191.9 L343.1 189.1 L344.1 186.7 L345.5 184.5 L347.2 182.5 L349.3 180.8 L351.8 179.3 L354.6 178.1 L357.7 177.2 L361.2 176.5 L365.2 176.0 L370.3 175.9 L375.4 176.0 L379.4 176.5 L382.9 177.2 L386.0 178.1 L388.8 179.3 L391.3 180.8 L393.4 182.5 L395.1 184.5 L396.5 186.7 L397.5 189.1 L398.1 191.9 Z" fill="#2c2c2c" stroke="#8c8c8c" stroke-width="1.4" stroke-linecap="round" stroke-linejoin="round"/>
<path d="M342.6 190.3 C340.5 199.4,344.2 208.5,353.9 212.0" fill="none" stroke="#868686" stroke-width="2.8" stroke-linecap="round" stroke-linejoin="round"/>
<path d="M396.8 190.3 C398.9 199.4,395.2 208.5,385.1 212.0" fill="none" stroke="#868686" stroke-width="2.8" stroke-linecap="round" stroke-linejoin="round"/>
<path d="M352.7 210.0 C353.3 207.1,356.7 201.9,359.4 201.1 C362.1 200.2,365.7 204.7,368.9 204.7 C372.1 204.7,375.7 200.2,378.6 201.1 C381.5 201.9,385.7 207.1,386.3 210.0 C386.9 212.8,385.2 216.4,382.3 218.1 C379.4 219.8,373.3 220.1,368.9 220.1 C364.5 220.1,358.6 219.8,355.9 218.1 C353.2 216.4,352.1 212.8,352.7 210.0 Z" fill="#7c7c7c"/>
<path d="M350.7 181.2 C351.5 179.4,354.0 178.0,355.9 178.4 C357.9 178.7,360.8 181.2,362.4 183.2 C364.0 185.2,365.6 188.3,365.6 190.3 C365.6 192.3,364.0 194.7,362.4 195.4 C360.8 196.1,357.8 195.6,355.9 194.6 C354.0 193.5,351.9 191.1,351.1 188.9 C350.2 186.7,349.8 183.0,350.7 181.2 Z" fill="#7c7c7c"/>
<ellipse cx="360.4" cy="180.2" rx="3.2" ry="3.0" fill="#8a8a8a" stroke="#a8a8a8" stroke-width="0.5"/>
<ellipse cx="351.3" cy="197.4" rx="5.2" ry="3.2" fill="#a4a4a4" transform="rotate(15 351.3 197.4)"/>
<ellipse cx="351.3" cy="197.4" rx="3.0" ry="1.5" fill="#555" transform="rotate(15 351.3 197.4)"/>
<ellipse cx="365.6" cy="179.2" rx="2.4" ry="3.2" fill="#ffffff"/>
<ellipse cx="368.5" cy="182.0" rx="2.6" ry="3.6" fill="#ffffff"/>
<ellipse cx="371.7" cy="179.2" rx="2.8" ry="2.8" fill="#ffffff"/>
<ellipse cx="375.0" cy="181.6" rx="3.0" ry="3.6" fill="#ffffff"/>
<ellipse cx="378.6" cy="180.0" rx="2.8" ry="3.0" fill="#ffffff"/>
<ellipse cx="381.8" cy="182.8" rx="2.8" ry="3.4" fill="#ffffff"/>
<ellipse cx="372.5" cy="184.4" rx="2.6" ry="2.2" fill="#ffffff"/>
<ellipse cx="385.1" cy="186.1" rx="2.8" ry="3.2" fill="#ffffff"/>
<ellipse cx="387.9" cy="189.7" rx="2.8" ry="3.6" fill="#ffffff"/>
<ellipse cx="389.1" cy="194.2" rx="3.0" ry="3.4" fill="#ffffff"/>
<ellipse cx="385.5" cy="196.2" rx="3.0" ry="2.8" fill="#ffffff"/>
<ellipse cx="383.1" cy="191.3" rx="2.0" ry="2.4" fill="#ffffff"/>
<ellipse cx="377.0" cy="184.8" rx="2.0" ry="1.8" fill="#ffffff"/>
<ellipse cx="389.1" cy="203.1" rx="1.9" ry="1.9" fill="#8a8a8a"/>
<ellipse cx="377.0" cy="195.4" rx="2.0" ry="2.6" fill="#8c8c8c"/>
<ellipse cx="368.5" cy="202.5" rx="4.6" ry="4.5" fill="#fafafa"/>
<ellipse cx="368.5" cy="202.5" rx="2.3" ry="2.1" fill="#b8b8b8"/>
<ellipse cx="368.5" cy="195.4" rx="1.6" ry="1.2" fill="#e0e0e0"/>
<path d="M364.8 207.9 L368.5 210.8 L372.1 207.9 M368.5 210.8 L368.5 215.6" fill="none" stroke="#f4f4f4" stroke-width="1.4" stroke-linecap="round" stroke-linejoin="round"/>
</g></g>
<g clip-path="url(#clip3)">
<rect x="406.1" y="171.3" width="69.15" height="51.1" fill="#040404"/>
<g filter="url(#blur1)">
<path d="M473.4 196.9 L473.2 202.0 L472.5 205.5 L471.5 208.6 L470.0 211.2 L468.1 213.6 L465.8 215.6 L463.1 217.3 L460.0 218.7 L456.5 219.9 L452.5 220.7 L447.8 221.1 L441.0 221.3 L434.2 221.1 L429.5 220.7 L425.5 219.9 L422.0 218.7 L418.9 217.3 L416.2 215.6 L413.9 213.6 L412.0 211.2 L410.5 208.6 L409.5 205.5 L408.8 202.0 L408.6 196.9 L408.8 191.8 L409.5 188.3 L410.5 185.2 L412.0 182.6 L413.9 180.2 L416.2 178.2 L418.9 176.5 L422.0 175.1 L425.5 173.9 L429.5 173.1 L434.2 172.7 L441.0 172.5 L447.8 172.7 L452.5 173.1 L456.5 173.9 L460.0 175.1 L463.1 176.5 L465.8 178.2 L468.1 180.2 L470.0 182.6 L471.5 185.2 L472.5 188.3 L473.2 191.8 Z" fill="#3a3a3a" stroke="#808080" stroke-width="0.6" stroke-linecap="round" stroke-linejoin="round"/>
<path d="M469.0 195.5 L468.8 199.1 L468.2 201.8 L467.2 204.2 L465.8 206.4 L464.1 208.3 L462.0 210.0 L459.5 211.5 L456.7 212.7 L453.6 213.7 L450.1 214.3 L446.1 214.8 L441.0 214.9 L435.9 214.8 L431.9 214.3 L428.4 213.7 L425.3 212.7 L422.5 211.5 L420.0 210.0 L417.9 208.3 L416.2 206.4 L414.8 204.2 L413.8 201.8 L413.2 199.1 L413.0 195.5 L413.2 191.9 L413.8 189.2 L414.8 186.8 L416.2 184.6 L417.9 182.7 L420.0 181.0 L422.5 179.5 L425.3 178.3 L428.4 177.3 L431.9 176.7 L435.9 176.2 L441.0 176.1 L446.1 176.2 L450.1 176.7 L453.6 177.3 L456.7 178.3 L459.5 179.5 L462.0 181.0 L464.1 182.7 L465.8 184.6 L467.2 186.8 L468.2 189.2 L468.8 191.9 Z" fill="#222222" stroke="#8c8c8c" stroke-width="1.4" stroke-linecap="round" stroke-linejoin="round"/>
<path d="M413.8 190.3 C411.7 199.4,415.8 208.5,425.9 212.6" fill="none" stroke="#828282" stroke-width="2.4" stroke-linecap="round" stroke-linejoin="round"/>
<path d="M469.3 190.3 C471.3 199.4,467.2 208.5,457.1 212.6" fill="none" stroke="#828282" stroke-width="2.4" stroke-linecap="round" stroke-linejoin="round"/>
<path d="M424.7 210.6 C425.3 207.8,429.2 202.7,432.0 201.9 C434.8 201.0,438.3 205.5,441.5 205.5 C444.8 205.5,448.5 201.0,451.4 201.9 C454.4 202.7,458.5 207.8,459.1 210.6 C459.7 213.3,458.0 216.8,455.1 218.5 C452.2 220.1,446.0 220.5,441.5 220.5 C437.1 220.5,431.2 220.1,428.4 218.5 C425.6 216.8,424.1 213.3,424.7 210.6 Z" fill="#7c7c7c"/>
<ellipse cx="419.2" cy="190.3" rx="3.2" ry="3.2" fill="#060606" stroke="#5c5c5c" stroke-width="0.5"/>
<ellipse cx="425.3" cy="187.3" rx="2.8" ry="2.8" fill="#060606" stroke="#5c5c5c" stroke-width="0.5"/>
<ellipse cx="417.2" cy="197.4" rx="3.0" ry="3.0" fill="#060606" stroke="#5c5c5c" stroke-width="0.5"/>
<ellipse cx="424.3" cy="195.4" rx="3.0" ry="3.0" fill="#060606" stroke="#5c5c5c" stroke-width="0.5"/>
<ellipse cx="420.3" cy="203.5" rx="3.0" ry="3.0" fill="#060606" stroke="#5c5c5c" stroke-width="0.5"/>
<ellipse cx="427.3" cy="202.5" rx="2.8" ry="2.8" fill="#060606" stroke="#5c5c5c" stroke-width="0.5"/>
<ellipse cx="430.4" cy="191.3" rx="2.4" ry="2.4" fill="#060606" stroke="#5c5c5c" stroke-width="0.5"/>
<ellipse cx="432.8" cy="185.3" rx="1.8" ry="2.2" fill="#ffffff"/>
<ellipse cx="436.1" cy="182.8" rx="1.8" ry="1.8" fill="#ffffff"/>
<ellipse cx="439.7" cy="185.3" rx="1.8" ry="2.0" fill="#ffffff"/>
<ellipse cx="445.0" cy="184.4" rx="2.2" ry="2.2" fill="#ffffff"/>
<ellipse cx="432.4" cy="189.3" rx="1.4" ry="1.4" fill="#ffffff"/>
<ellipse cx="451.0" cy="186.3" rx="2.2" ry="2.2" fill="#ffffff"/>
<ellipse cx="454.7" cy="188.9" rx="2.4" ry="2.4" fill="#ffffff"/>
<ellipse cx="459.1" cy="190.9" rx="2.2" ry="2.6" fill="#ffffff"/>
<ellipse cx="460.4" cy="195.4" rx="2.6" ry="2.6" fill="#ffffff"/>
<ellipse cx="456.3" cy="199.0" rx="2.4" ry="2.2" fill="#ffffff"/>
<ellipse cx="450.6" cy="190.9" rx="1.8" ry="1.8" fill="#ffffff"/>
<ellipse cx="441.5" cy="195.4" rx="2.2" ry="1.6" fill="#ffffff"/>
<ellipse cx="465.8" cy="201.5" rx="2.5" ry="2.5" fill="#808080"/>
<ellipse cx="467.8" cy="195.4" rx="1.8" ry="1.8" fill="#6a6a6a"/>
<ellipse cx="443.5" cy="191.3" rx="4.0" ry="1.6" fill="#5a5a5a"/>
<ellipse cx="441.5" cy="202.5" rx="4.6" ry="4.4" fill="#fafafa"/>
<ellipse cx="441.5" cy="201.5" rx="2.0" ry="1.6" fill="#c8c8c8"/>
<path d="M437.7 207.9 L441.5 210.8 L445.4 207.9 M441.5 210.8 L441.5 216.4" fill="none" stroke="#f4f4f4" stroke-width="1.4" stroke-linecap="round" stroke-linejoin="round"/>
</g></g>
<path d="M335.0 136.0 L344.8 138.1" stroke="#9aa4e2" stroke-width="1.6" fill="none"/>
<path d="M349.8 138.8 L343.8 134.4 L342.8 141.4 Z" fill="#9aa4e2"/>
<path d="M335.0 182.2 L345.8 185.1" stroke="#7888d0" stroke-width="1.6" fill="none"/>
<path d="M352.0 186.5 L345.0 182.4 L343.6 188.8 Z" fill="#6e7ec8"/>
</g>
<g id="panelE">
<text x="287.50" y="247.30" font-size="13.2" fill="#000" text-anchor="start" font-weight="bold" >E</text>
<rect x="400.50" y="245.45" width="72.31" height="1.9" fill="#ffffff" stroke="#fad9a8" stroke-width="0.5"/>
<rect x="347.49" y="245.20" width="53.51" height="2.4" rx="0.6" fill="#f4a321"/>
<rect x="307.20" y="245.20" width="41.29" height="2.4" rx="0.8" fill="#0d8486"/>
<rect x="308.00" y="245.70" width="8" height="1.4" fill="#085a5c" fill-opacity="0.55"/>
<rect x="332.91" y="245.70" width="3.5" height="1.4" fill="#085a5c" fill-opacity="0.5"/>
<rect x="346.13" y="260.50" width="55.20" height="2.4" rx="0.6" fill="#f4a321"/>
<rect x="307.20" y="260.50" width="39.93" height="2.4" rx="0.8" fill="#0d8486"/>
<rect x="308.00" y="261.00" width="8" height="1.4" fill="#085a5c" fill-opacity="0.55"/>
<rect x="332.07" y="261.00" width="3.5" height="1.4" fill="#085a5c" fill-opacity="0.5"/>
<rect x="400.83" y="275.45" width="71.98" height="1.9" fill="#ffffff" stroke="#fad9a8" stroke-width="0.5"/>
<rect x="344.10" y="275.20" width="57.23" height="2.4" rx="0.6" fill="#f4a321"/>
<rect x="307.20" y="275.20" width="37.90" height="2.4" rx="0.8" fill="#0d8486"/>
<rect x="308.00" y="275.70" width="8" height="1.4" fill="#085a5c" fill-opacity="0.55"/>
<rect x="330.81" y="275.70" width="3.5" height="1.4" fill="#085a5c" fill-opacity="0.5"/>
<rect x="340.20" y="290.65" width="68.93" height="1.9" fill="#ffffff" stroke="#fad9a8" stroke-width="0.5"/>
<rect x="336.65" y="290.40" width="4.05" height="2.4" rx="0.6" fill="#f4a321"/>
<rect x="307.20" y="290.40" width="30.45" height="2.4" rx="0.8" fill="#0d8486"/>
<rect x="308.00" y="290.90" width="8" height="1.4" fill="#085a5c" fill-opacity="0.55"/>
<rect x="326.19" y="290.90" width="3.5" height="1.4" fill="#085a5c" fill-opacity="0.5"/>
<rect x="355.44" y="305.35" width="17.44" height="1.9" fill="#ffffff" stroke="#fad9a8" stroke-width="0.5"/>
<rect x="351.22" y="305.10" width="4.73" height="2.4" rx="0.6" fill="#f4a321"/>
<rect x="307.20" y="305.10" width="45.02" height="2.4" rx="0.8" fill="#0d8486"/>
<rect x="308.00" y="305.60" width="8" height="1.4" fill="#085a5c" fill-opacity="0.55"/>
<rect x="335.22" y="305.60" width="3.5" height="1.4" fill="#085a5c" fill-opacity="0.5"/>
<path d="M472.6 247.20000000000002 L474.6 247.20000000000002 L473.6 245.20000000000002 Z" fill="#f4f4f4" stroke="#888" stroke-width="0.3"/>
<path d="M475.5 246.6 H477.29999999999995 M476.4 245.7 V247.5" stroke="#555" stroke-width="0.35"/>
<path d="M472.4 261.5 H480.0" stroke="#111" stroke-width="0.45"/>
<path d="M481.4 261.5 L479.2 260.7 L479.2 262.3 Z" fill="#111"/>
<circle cx="472.4" cy="261.5" r="0.45" fill="#111"/>
<path d="M482.0 260.6 V262.4" stroke="#444" stroke-width="0.3"/>
<rect x="375.8" y="275.59999999999997" width="2.0" height="1.6" fill="#c9b48a" stroke="#8a7a5a" stroke-width="0.25"/>
<path d="M473.40000000000003 276.5 H475.2 M474.3 275.6 V277.4" stroke="#555" stroke-width="0.35"/>
<path d="M408.8 291.6 H416.40000000000003" stroke="#111" stroke-width="0.45"/>
<path d="M417.8 291.6 L415.6 290.8 L415.6 292.40000000000003 Z" fill="#111"/>
<circle cx="408.8" cy="291.6" r="0.45" fill="#111"/>
<path d="M418.40000000000003 290.70000000000005 V292.5" stroke="#444" stroke-width="0.3"/>
<path d="M374.6 307.2 L376.6 307.2 L375.6 305.2 Z" fill="#f4f4f4" stroke="#888" stroke-width="0.3"/>
<path d="M377.70000000000005 306.3 H379.5 M378.6 305.40000000000003 V307.2" stroke="#555" stroke-width="0.35"/>
<line x1="307.5" y1="324.3" x2="510.75" y2="324.3" stroke="#222" stroke-width="0.8"/>
<line x1="307.50" y1="322.90000000000003" x2="307.50" y2="325.3" stroke="#222" stroke-width="0.7"/>
<text x="307.50" y="333.75" font-size="5.8" fill="#1a1a1a" text-anchor="middle" font-weight="normal"  stroke="#1a1a1a" stroke-width="0.16">0</text>
<line x1="324.44" y1="322.90000000000003" x2="324.44" y2="325.3" stroke="#222" stroke-width="0.7"/>
<text x="324.44" y="333.75" font-size="5.8" fill="#1a1a1a" text-anchor="middle" font-weight="normal"  stroke="#1a1a1a" stroke-width="0.16">5</text>
<line x1="341.38" y1="322.90000000000003" x2="341.38" y2="325.3" stroke="#222" stroke-width="0.7"/>
<text x="341.38" y="333.75" font-size="5.8" fill="#1a1a1a" text-anchor="middle" font-weight="normal"  stroke="#1a1a1a" stroke-width="0.16">10</text>
<line x1="358.31" y1="322.90000000000003" x2="358.31" y2="325.3" stroke="#222" stroke-width="0.7"/>
<text x="358.31" y="333.75" font-size="5.8" fill="#1a1a1a" text-anchor="middle" font-weight="normal"  stroke="#1a1a1a" stroke-width="0.16">15</text>
<line x1="375.25" y1="322.90000000000003" x2="375.25" y2="325.3" stroke="#222" stroke-width="0.7"/>
<text x="375.25" y="333.75" font-size="5.8" fill="#1a1a1a" text-anchor="middle" font-weight="normal"  stroke="#1a1a1a" stroke-width="0.16">20</text>
<line x1="392.19" y1="322.90000000000003" x2="392.19" y2="325.3" stroke="#222" stroke-width="0.7"/>
<text x="392.19" y="333.75" font-size="5.8" fill="#1a1a1a" text-anchor="middle" font-weight="normal"  stroke="#1a1a1a" stroke-width="0.16">25</text>
<line x1="409.12" y1="322.90000000000003" x2="409.12" y2="325.3" stroke="#222" stroke-width="0.7"/>
<text x="409.12" y="333.75" font-size="5.8" fill="#1a1a1a" text-anchor="middle" font-weight="normal"  stroke="#1a1a1a" stroke-width="0.16">30</text>
<line x1="426.06" y1="322.90000000000003" x2="426.06" y2="325.3" stroke="#222" stroke-width="0.7"/>
<text x="426.06" y="333.75" font-size="5.8" fill="#1a1a1a" text-anchor="middle" font-weight="normal"  stroke="#1a1a1a" stroke-width="0.16">35</text>
<line x1="443.00" y1="322.90000000000003" x2="443.00" y2="325.3" stroke="#222" stroke-width="0.7"/>
<text x="443.00" y="333.75" font-size="5.8" fill="#1a1a1a" text-anchor="middle" font-weight="normal"  stroke="#1a1a1a" stroke-width="0.16">40</text>
<line x1="459.94" y1="322.90000000000003" x2="459.94" y2="325.3" stroke="#222" stroke-width="0.7"/>
<text x="459.94" y="333.75" font-size="5.8" fill="#1a1a1a" text-anchor="middle" font-weight="normal"  stroke="#1a1a1a" stroke-width="0.16">45</text>
<line x1="476.88" y1="322.90000000000003" x2="476.88" y2="325.3" stroke="#222" stroke-width="0.7"/>
<text x="476.88" y="333.75" font-size="5.8" fill="#1a1a1a" text-anchor="middle" font-weight="normal"  stroke="#1a1a1a" stroke-width="0.16">50</text>
<line x1="493.81" y1="322.90000000000003" x2="493.81" y2="325.3" stroke="#222" stroke-width="0.7"/>
<text x="493.81" y="333.75" font-size="5.8" fill="#1a1a1a" text-anchor="middle" font-weight="normal"  stroke="#1a1a1a" stroke-width="0.16">55</text>
<line x1="510.75" y1="322.90000000000003" x2="510.75" y2="325.3" stroke="#222" stroke-width="0.7"/>
<text x="510.75" y="333.75" font-size="5.8" fill="#1a1a1a" text-anchor="middle" font-weight="normal"  stroke="#1a1a1a" stroke-width="0.16">60</text>
<text x="408.50" y="343.80" font-size="6.55" fill="#111" text-anchor="middle" font-weight="normal"  stroke="#111" stroke-width="0.16">Time from start of treatment (months)</text>
<text x="427.20" y="289.70" font-size="4.4" fill="#111" text-anchor="start" font-weight="normal"  stroke="#111" stroke-width="0.16">On treatment</text>
<rect x="421.8" y="287.3" width="1.6" height="1.6" fill="#14506a"/>
<text x="427.20" y="294.62" font-size="4.4" fill="#111" text-anchor="start" font-weight="normal"  stroke="#111" stroke-width="0.16">Off treatment (until end of study)</text>
<rect x="421.8" y="292.22" width="1.6" height="1.6" fill="#f4a321"/>
<text x="427.20" y="299.54" font-size="4.4" fill="#111" text-anchor="start" font-weight="normal"  stroke="#111" stroke-width="0.16">Off treatment (follow-up beyond end of study)</text>
<rect x="421.8" y="297.34" width="1.6" height="1.2" fill="#fff" stroke="#f2d29a" stroke-width="0.3"/>
<text x="427.20" y="304.46" font-size="4.4" fill="#111" text-anchor="start" font-weight="normal"  stroke="#111" stroke-width="0.16">First PR</text>
<rect x="421.6" y="302.36" width="2.0" height="1.0" fill="#c8c8d8" stroke="#889" stroke-width="0.25"/>
<text x="427.20" y="309.38" font-size="4.4" fill="#111" text-anchor="start" font-weight="normal"  stroke="#111" stroke-width="0.16">PD</text>
<path d="M421.6 308.68 L423.6 308.68 L422.6 306.68 Z" fill="#f4f4f4" stroke="#888" stroke-width="0.3"/>
<text x="427.20" y="314.30" font-size="4.4" fill="#111" text-anchor="start" font-weight="normal"  stroke="#111" stroke-width="0.16">Alive</text>
<path d="M421.40000000000003 312.70000000000005 H423.8" stroke="#555" stroke-width="0.35"/>
<circle cx="422.6" cy="312.70000000000005" r="0.6" fill="#666"/>
<text x="427.20" y="319.22" font-size="4.4" fill="#111" text-anchor="start" font-weight="normal"  stroke="#111" stroke-width="0.16">Deceased</text>
<path d="M421.70000000000005 317.62 H423.5 M422.6 316.72 V318.52" stroke="#555" stroke-width="0.35"/>
</g>
</svg>
</body>
</html>
